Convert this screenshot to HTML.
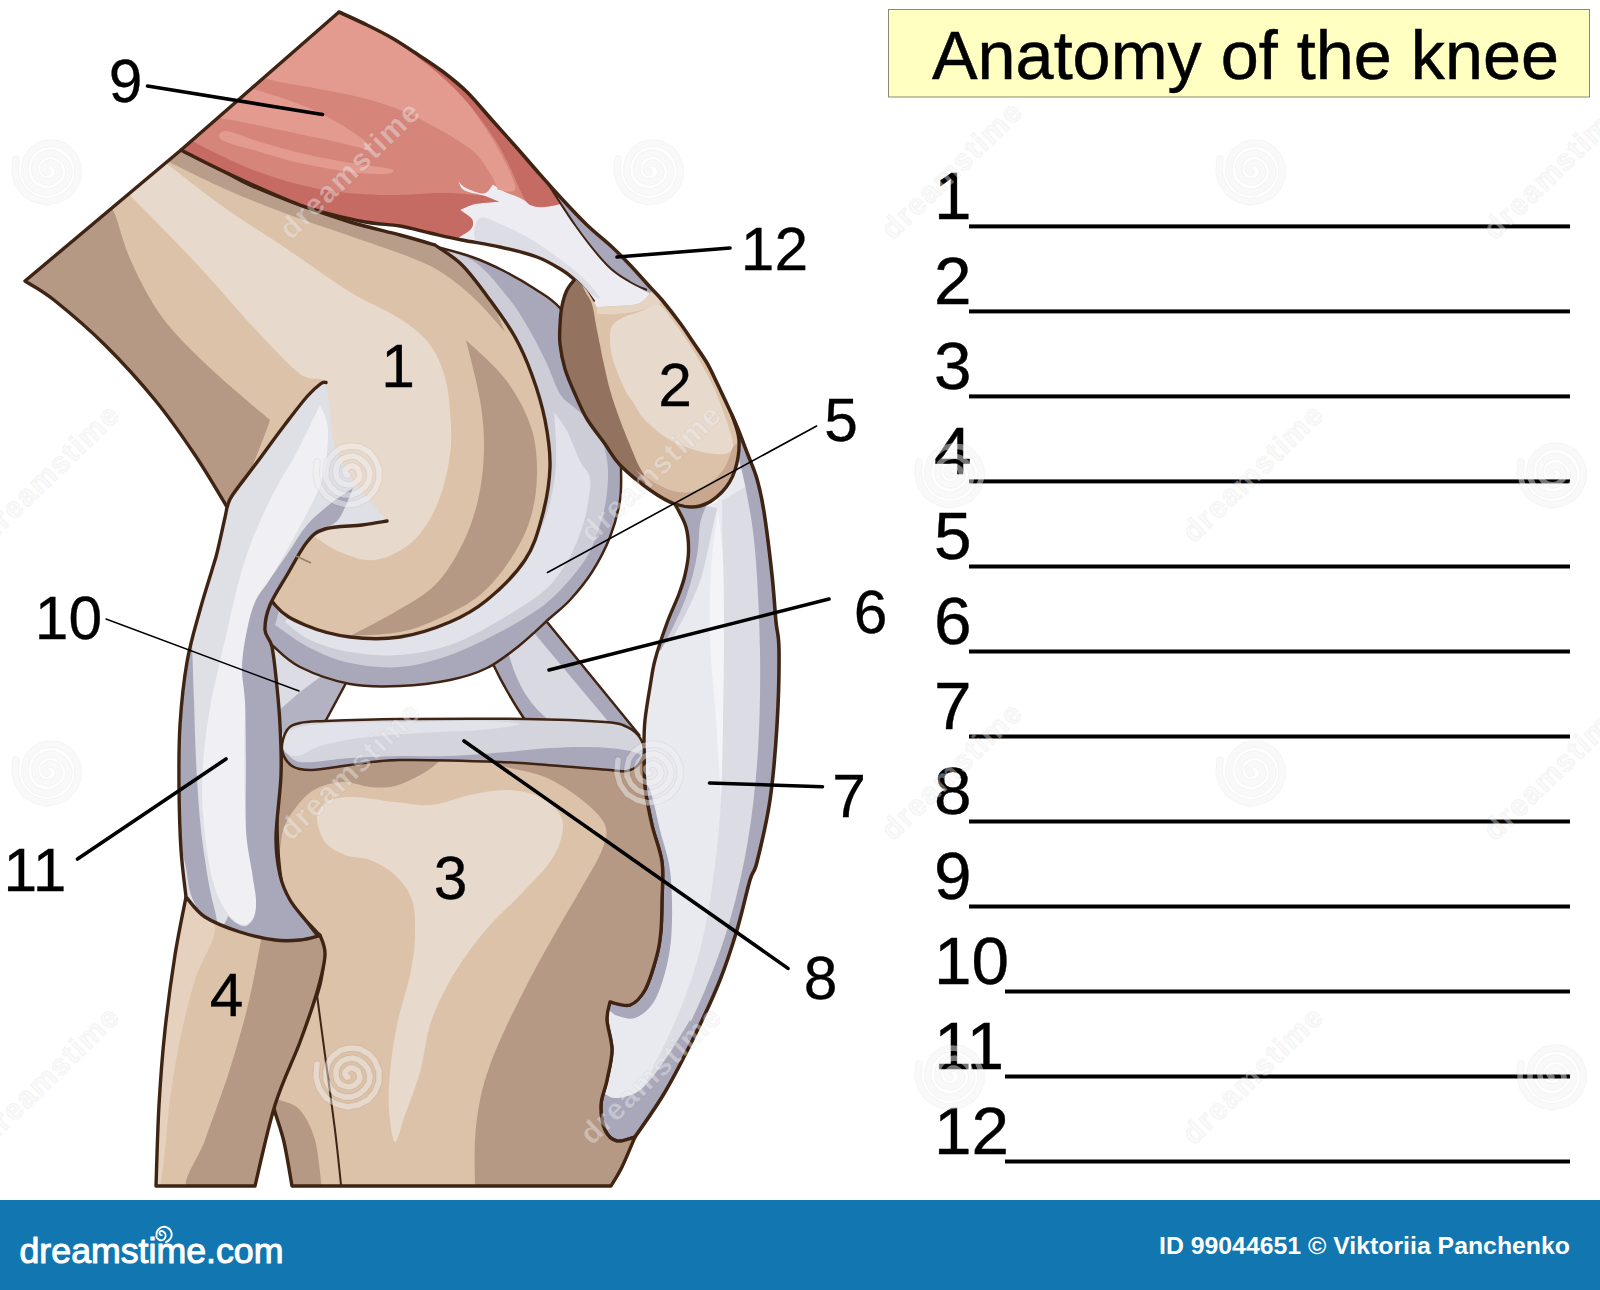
<!DOCTYPE html>
<html><head><meta charset="utf-8"><title>Anatomy of the knee</title>
<style>
html,body{margin:0;padding:0;background:#fff}
body{width:1600px;height:1290px;overflow:hidden;font-family:"Liberation Sans",sans-serif}
svg{display:block}
text{font-family:"Liberation Sans",sans-serif}
</style></head><body>
<svg width="1600" height="1290" viewBox="0 0 1600 1290">
<defs>
<clipPath id="cpCart"><path d="M433.0,246.0C439.5,247.8 460.2,252.8 472.0,257.0C483.8,261.2 493.5,265.7 504.0,271.0C514.5,276.3 525.7,282.8 535.0,289.0C544.3,295.2 550.8,297.8 560.0,308.0C569.2,318.2 581.7,334.7 590.0,350.0C598.3,365.3 605.0,385.0 610.0,400.0C615.0,415.0 618.2,428.8 620.0,440.0C621.8,451.2 621.0,457.0 621.0,467.0C621.0,477.0 621.8,488.3 620.0,500.0C618.2,511.7 614.7,525.0 610.0,537.0C605.3,549.0 598.7,561.5 592.0,572.0C585.3,582.5 577.0,592.3 570.0,600.0C563.0,607.7 558.3,610.5 550.0,618.0C541.7,625.5 530.5,636.7 520.0,645.0C509.5,653.3 498.7,662.2 487.0,668.0C475.3,673.8 464.5,677.0 450.0,680.0C435.5,683.0 416.7,685.3 400.0,686.0C383.3,686.7 366.7,687.2 350.0,684.0C333.3,680.8 313.0,673.5 300.0,667.0C287.0,660.5 279.5,651.5 272.0,645.0C264.5,638.5 257.8,630.8 255.0,628.0C262.5,616.7 275.8,598.0 300.0,560.0C324.2,522.0 377.5,452.5 400.0,400.0C422.5,347.5 429.2,270.8 435.0,245.0Z"/></clipPath>
<clipPath id="cpFem"><path d="M181.0,150.0C188.3,153.7 213.5,166.2 225.0,172.0C236.5,177.8 237.5,179.5 250.0,185.0C262.5,190.5 283.3,198.8 300.0,205.0C316.7,211.2 333.3,217.0 350.0,222.0C366.7,227.0 385.8,231.2 400.0,235.0C414.2,238.8 429.2,243.3 435.0,245.0C439.5,248.3 452.8,255.8 462.0,265.0C471.2,274.2 481.2,288.0 490.0,300.0C498.8,312.0 508.0,324.5 515.0,337.0C522.0,349.5 527.0,361.2 532.0,375.0C537.0,388.8 542.0,404.7 545.0,420.0C548.0,435.3 550.5,450.8 550.0,467.0C549.5,483.2 546.2,501.5 542.0,517.0C537.8,532.5 534.2,546.2 525.0,560.0C515.8,573.8 499.5,589.7 487.0,600.0C474.5,610.3 464.5,615.8 450.0,622.0C435.5,628.2 416.7,634.5 400.0,637.0C383.3,639.5 365.8,639.0 350.0,637.0C334.2,635.0 317.5,630.3 305.0,625.0C292.5,619.7 284.2,615.8 275.0,605.0C265.8,594.2 258.0,576.3 250.0,560.0C242.0,543.7 230.8,515.8 227.0,507.0C221.7,498.3 207.0,472.8 195.0,455.0C183.0,437.2 170.0,418.3 155.0,400.0C140.0,381.7 121.8,361.7 105.0,345.0C88.2,328.3 67.3,310.7 54.0,300.0C40.7,289.3 29.8,284.2 25.0,281.0L181.0,150.0Z"/></clipPath>
<clipPath id="cpMT"><path d="M339.0,12.0L181.0,150.0C188.3,153.7 205.2,162.8 225.0,172.0C244.8,181.2 277.5,196.8 300.0,205.0C322.5,213.2 343.3,217.5 360.0,221.0C376.7,224.5 388.3,224.0 400.0,226.0C411.7,228.0 419.7,230.7 430.0,233.0C440.3,235.3 450.3,237.7 462.0,240.0C473.7,242.3 487.5,244.2 500.0,247.0C512.5,249.8 526.7,253.2 537.0,257.0C547.3,260.8 555.7,266.2 562.0,270.0C568.3,273.8 571.2,276.8 575.0,280.0C578.8,283.2 582.0,285.2 585.0,289.0C588.0,292.8 590.8,298.7 593.0,303.0C595.2,307.3 597.2,313.0 598.0,315.0C600.0,315.8 603.0,320.0 610.0,320.0C617.0,320.0 631.7,319.2 640.0,315.0C648.3,310.8 656.7,298.3 660.0,295.0C658.3,293.7 654.8,291.8 650.0,287.0C645.2,282.2 637.3,272.7 631.0,266.0C624.7,259.3 619.3,253.8 612.0,247.0C604.7,240.2 595.3,233.0 587.0,225.0C578.7,217.0 570.3,208.0 562.0,199.0C553.7,190.0 544.5,179.5 537.0,171.0C529.5,162.5 524.5,156.5 517.0,148.0C509.5,139.5 500.3,129.3 492.0,120.0C483.7,110.7 475.3,100.2 467.0,92.0C458.7,83.8 450.3,77.3 442.0,71.0C433.7,64.7 425.3,59.5 417.0,54.0C408.7,48.5 400.3,42.8 392.0,38.0C383.7,33.2 375.8,29.3 367.0,25.0C358.2,20.7 343.7,14.2 339.0,12.0Z"/></clipPath>
<clipPath id="cpPL"><path d="M732.0,415.0C733.0,417.3 735.3,422.3 738.0,429.0C740.7,435.7 744.8,446.7 748.0,455.0C751.2,463.3 754.3,469.5 757.0,479.0C759.7,488.5 761.5,496.0 764.0,512.0C766.5,528.0 770.0,556.7 772.0,575.0C774.0,593.3 774.8,609.5 776.0,622.0C777.2,634.5 778.8,632.8 779.0,650.0C779.2,667.2 778.5,700.0 777.0,725.0C775.5,750.0 773.3,777.2 770.0,800.0C766.7,822.8 760.3,848.7 757.0,862.0C753.7,875.3 753.3,868.7 750.0,880.0C746.7,891.3 742.0,913.3 737.0,930.0C732.0,946.7 727.0,962.5 720.0,980.0C713.0,997.5 704.2,1016.3 695.0,1035.0C685.8,1053.7 675.0,1075.0 665.0,1092.0C655.0,1109.0 640.0,1129.5 635.0,1137.0C632.0,1137.7 622.0,1142.2 617.0,1141.0C612.0,1139.8 607.7,1136.0 605.0,1130.0C602.3,1124.0 600.7,1113.3 601.0,1105.0C601.3,1096.7 605.2,1089.2 607.0,1080.0C608.8,1070.8 612.0,1060.0 612.0,1050.0C612.0,1040.0 607.3,1028.0 607.0,1020.0C606.7,1012.0 609.5,1005.0 610.0,1002.0C613.3,1002.5 624.2,1007.0 630.0,1005.0C635.8,1003.0 640.5,998.3 645.0,990.0C649.5,981.7 654.3,965.0 657.0,955.0C659.7,945.0 660.2,939.2 661.0,930.0C661.8,920.8 661.8,911.3 662.0,900.0C662.2,888.7 663.7,874.5 662.0,862.0C660.3,849.5 654.8,837.5 652.0,825.0C649.2,812.5 646.3,800.3 645.0,787.0C643.7,773.7 644.0,756.2 644.0,745.0C644.0,733.8 644.0,729.7 645.0,720.0C646.0,710.3 648.3,697.0 650.0,687.0C651.7,677.0 652.2,670.7 655.0,660.0C657.8,649.3 663.0,634.0 667.0,623.0C671.0,612.0 676.0,602.0 679.0,594.0C682.0,586.0 683.4,582.0 685.0,575.0C686.6,568.0 688.3,560.0 688.5,552.0C688.7,544.0 688.2,535.0 686.0,527.0C683.8,519.0 676.8,507.8 675.0,504.0C679.2,504.3 692.2,508.0 700.0,506.0C707.8,504.0 716.7,507.2 722.0,492.0C727.3,476.8 730.3,427.8 732.0,415.0Z"/></clipPath>
<clipPath id="cpPat"><path d="M575.0,279.0C573.7,280.8 569.2,285.5 567.0,290.0C564.8,294.5 563.2,300.2 562.0,306.0C560.8,311.8 560.3,318.7 560.0,325.0C559.7,331.3 559.2,336.7 560.0,344.0C560.8,351.3 562.5,360.7 565.0,369.0C567.5,377.3 571.3,385.7 575.0,394.0C578.7,402.3 582.0,410.7 587.0,419.0C592.0,427.3 599.5,436.3 605.0,444.0C610.5,451.7 612.5,457.3 620.0,465.0C627.5,472.7 640.8,483.5 650.0,490.0C659.2,496.5 666.7,501.3 675.0,504.0C683.3,506.7 692.2,508.0 700.0,506.0C707.8,504.0 716.2,498.0 722.0,492.0C727.8,486.0 732.2,478.7 735.0,470.0C737.8,461.3 739.5,449.2 739.0,440.0C738.5,430.8 733.2,419.2 732.0,415.0C730.8,412.5 727.6,405.5 725.0,400.0C722.4,394.5 719.5,388.2 716.5,382.0C713.5,375.8 710.9,369.7 707.0,363.0C703.1,356.3 697.5,348.7 693.0,342.0C688.5,335.3 685.2,330.0 680.0,323.0C674.8,316.0 666.7,305.7 662.0,300.0C657.3,294.3 653.7,290.8 652.0,289.0C651.2,290.3 649.5,294.5 647.0,297.0C644.5,299.5 642.2,302.5 637.0,304.0C631.8,305.5 622.7,305.5 616.0,306.0C609.3,306.5 600.2,306.8 597.0,307.0C596.5,306.2 596.0,305.2 594.0,302.0C592.0,298.8 588.2,291.8 585.0,288.0C581.8,284.2 576.7,280.5 575.0,279.0Z"/></clipPath>
<clipPath id="cpTib"><path d="M281.0,765.0C280.3,775.0 276.8,804.7 277.0,825.0C277.2,845.3 279.8,873.7 282.0,887.0C284.2,900.3 285.8,899.2 290.0,905.0C294.2,910.8 302.0,916.7 307.0,922.0C312.0,927.3 317.2,931.5 320.0,937.0C322.8,942.5 323.8,947.8 324.0,955.0C324.2,962.2 322.2,973.3 321.0,980.0C319.8,986.7 317.7,992.5 317.0,995.0C314.2,1000.8 306.2,1016.7 300.0,1030.0C293.8,1043.3 284.7,1063.7 280.0,1075.0C275.3,1086.3 272.8,1091.8 272.0,1098.0C271.2,1104.2 273.0,1104.7 275.0,1112.0C277.0,1119.3 281.2,1129.7 284.0,1142.0C286.8,1154.3 290.7,1178.7 292.0,1186.0L611.0,1186.0C612.8,1182.8 618.0,1175.2 622.0,1167.0C626.0,1158.8 632.8,1142.0 635.0,1137.0C632.0,1137.7 622.0,1142.2 617.0,1141.0C612.0,1139.8 607.7,1136.0 605.0,1130.0C602.3,1124.0 600.7,1113.3 601.0,1105.0C601.3,1096.7 605.2,1089.2 607.0,1080.0C608.8,1070.8 612.0,1060.0 612.0,1050.0C612.0,1040.0 607.3,1028.0 607.0,1020.0C606.7,1012.0 609.5,1005.0 610.0,1002.0C613.3,1002.5 624.2,1007.0 630.0,1005.0C635.8,1003.0 640.5,998.3 645.0,990.0C649.5,981.7 654.3,965.0 657.0,955.0C659.7,945.0 660.2,939.2 661.0,930.0C661.8,920.8 661.8,911.3 662.0,900.0C662.2,888.7 663.7,874.5 662.0,862.0C660.3,849.5 654.8,837.5 652.0,825.0C649.2,812.5 646.3,799.5 645.0,787.0C643.7,774.5 644.2,756.2 644.0,750.0C620.0,748.3 560.5,740.8 500.0,740.0C439.5,739.2 317.5,744.2 281.0,745.0Z"/></clipPath>
<clipPath id="cpMen"><path d="M287.0,730.0C290.0,725.5 293.7,724.5 300.0,723.0C306.3,721.5 308.3,721.7 325.0,721.0C341.7,720.3 366.7,719.3 400.0,719.0C433.3,718.7 490.8,718.5 525.0,719.0C559.2,719.5 588.3,720.8 605.0,722.0C621.7,723.2 619.5,723.8 625.0,726.0C630.5,728.2 634.8,731.0 638.0,735.0C641.2,739.0 643.8,745.2 644.0,750.0C644.2,754.8 641.8,760.5 639.0,764.0C636.2,767.5 631.8,770.0 627.0,771.0C622.2,772.0 621.2,770.8 610.0,770.0C598.8,769.2 578.3,767.3 560.0,766.0C541.7,764.7 526.7,763.0 500.0,762.0C473.3,761.0 425.0,759.5 400.0,760.0C375.0,760.5 364.7,763.3 350.0,765.0C335.3,766.7 321.7,769.8 312.0,770.0C302.3,770.2 297.0,769.3 292.0,766.0C287.0,762.7 282.8,756.0 282.0,750.0C281.2,744.0 284.0,734.5 287.0,730.0Z"/></clipPath>
<clipPath id="cpFib"><path d="M186.0,897.0C184.2,906.7 178.5,932.8 175.0,955.0C171.5,977.2 167.7,1005.0 165.0,1030.0C162.3,1055.0 160.5,1079.0 159.0,1105.0C157.5,1131.0 156.5,1172.5 156.0,1186.0L255.0,1186.0C258.3,1172.5 267.5,1129.0 275.0,1105.0C282.5,1081.0 293.0,1060.8 300.0,1042.0C307.0,1023.2 312.8,1006.5 317.0,992.0C321.2,977.5 324.5,964.5 325.0,955.0C325.5,945.5 320.8,938.3 320.0,935.0C316.7,933.3 313.3,928.3 300.0,925.0C286.7,921.7 259.0,919.7 240.0,915.0C221.0,910.3 195.0,900.0 186.0,897.0Z"/></clipPath>
<clipPath id="cpL11"><path d="M326.0,382.5C325.2,382.7 324.1,381.2 321.0,383.5C317.9,385.8 313.5,389.2 307.5,396.0C301.5,402.8 293.8,413.0 285.0,424.5C276.2,436.0 263.8,453.2 255.0,465.0C246.2,476.8 237.1,488.2 232.5,495.0C227.9,501.8 228.8,502.2 227.5,506.0C226.2,509.8 226.8,509.7 225.0,517.5C223.2,525.3 219.2,544.2 217.0,553.0C214.8,561.8 214.8,560.5 212.0,570.0C209.2,579.5 204.2,594.7 200.0,610.0C195.8,625.3 190.3,642.8 187.0,662.0C183.7,681.2 181.3,704.2 180.0,725.0C178.7,745.8 178.8,766.2 179.0,787.0C179.2,807.8 179.8,831.7 181.0,850.0C182.2,868.3 185.2,889.2 186.0,897.0C189.2,900.3 196.0,911.2 205.0,917.0C214.0,922.8 228.3,928.2 240.0,932.0C251.7,935.8 265.0,938.7 275.0,940.0C285.0,941.3 292.8,940.7 300.0,940.0C307.2,939.3 315.0,936.7 318.0,936.0C316.2,933.7 311.7,928.0 307.0,922.0C302.3,916.0 294.5,907.8 290.0,900.0C285.5,892.2 282.3,885.5 280.0,875.0C277.7,864.5 275.8,853.7 276.0,837.0C276.2,820.3 280.3,793.7 281.0,775.0C281.7,756.3 280.7,739.7 280.0,725.0C279.3,710.3 278.3,700.0 277.0,687.0C275.7,674.0 274.0,656.5 272.0,647.0C270.0,637.5 265.3,637.0 265.0,630.0C264.7,623.0 266.3,614.2 270.0,605.0C273.7,595.8 280.8,585.5 287.0,575.0C293.2,564.5 300.7,549.7 307.0,542.0C313.3,534.3 315.8,531.8 325.0,529.0C334.2,526.2 351.7,526.3 362.0,525.0C372.3,523.7 382.8,521.7 387.0,521.0C385.5,519.2 381.8,514.3 378.0,510.0C374.2,505.7 369.5,501.0 364.5,495.0C359.5,489.0 352.8,481.5 348.0,474.0C343.2,466.5 338.8,457.2 336.0,450.0C333.2,442.8 332.5,437.2 331.5,430.5C330.5,423.8 330.9,417.2 330.0,409.5C329.1,401.8 326.7,388.2 326.0,384.0Z"/></clipPath>
</defs>
<path d="M547.0,622.0L640.0,736.0L525.0,722.0C522.2,716.7 513.5,700.0 508.0,690.0C502.5,680.0 494.7,666.7 492.0,662.0L520.0,640.0Z" fill="#d9d9e2"/>
<path d="M547,622 L640,736 L622,738 L530,628Z" fill="#a9a8bb"/>
<path d="M492,662 C505,690 515,710 528,722 L552,722 C532,708 518,688 508,652Z" fill="#a9a8bb"/>
<path d="M547,622 L640,736 M492,662 C505,690 515,705 525,720" fill="none" stroke="#3f2413" stroke-width="2.5"/>
<path d="M270,640 L300,667 L346,683 L325,722 L285,735 L275,730Z" fill="#dcdce4"/>
<path d="M276,713 L300,692 L331,669 L347,682 L324,723 L283,734Z" fill="#b3b2c2"/>
<path d="M346,683 L325,722" fill="none" stroke="#3f2413" stroke-width="2.5"/>
<path d="M433.0,246.0C439.5,247.8 460.2,252.8 472.0,257.0C483.8,261.2 493.5,265.7 504.0,271.0C514.5,276.3 525.7,282.8 535.0,289.0C544.3,295.2 550.8,297.8 560.0,308.0C569.2,318.2 581.7,334.7 590.0,350.0C598.3,365.3 605.0,385.0 610.0,400.0C615.0,415.0 618.2,428.8 620.0,440.0C621.8,451.2 621.0,457.0 621.0,467.0C621.0,477.0 621.8,488.3 620.0,500.0C618.2,511.7 614.7,525.0 610.0,537.0C605.3,549.0 598.7,561.5 592.0,572.0C585.3,582.5 577.0,592.3 570.0,600.0C563.0,607.7 558.3,610.5 550.0,618.0C541.7,625.5 530.5,636.7 520.0,645.0C509.5,653.3 498.7,662.2 487.0,668.0C475.3,673.8 464.5,677.0 450.0,680.0C435.5,683.0 416.7,685.3 400.0,686.0C383.3,686.7 366.7,687.2 350.0,684.0C333.3,680.8 313.0,673.5 300.0,667.0C287.0,660.5 279.5,651.5 272.0,645.0C264.5,638.5 257.8,630.8 255.0,628.0C262.5,616.7 275.8,598.0 300.0,560.0C324.2,522.0 377.5,452.5 400.0,400.0C422.5,347.5 429.2,270.8 435.0,245.0Z" fill="#a9a8bb"/>
<g clip-path="url(#cpCart)">
<path d="M436.0,247.0C442.5,249.5 462.7,253.2 475.0,262.0C487.3,270.8 500.8,288.5 510.0,300.0C519.2,311.5 524.0,320.7 530.0,331.0C536.0,341.3 541.0,351.5 546.0,362.0C551.0,372.5 555.2,386.3 560.0,394.0C564.8,401.7 569.7,403.0 575.0,408.0C580.3,413.0 587.5,418.7 592.0,424.0C596.5,429.3 599.5,434.0 602.0,440.0C604.5,446.0 606.0,453.8 607.0,460.0C608.0,466.2 608.2,470.3 608.0,477.0C607.8,483.7 607.3,492.0 606.0,500.0C604.7,508.0 603.0,515.8 600.0,525.0C597.0,534.2 593.8,545.0 588.0,555.0C582.2,565.0 573.0,576.2 565.0,585.0C557.0,593.8 550.8,600.2 540.0,608.0C529.2,615.8 515.0,624.2 500.0,632.0C485.0,639.8 466.7,649.2 450.0,655.0C433.3,660.8 416.7,665.7 400.0,667.0C383.3,668.3 365.0,666.2 350.0,663.0C335.0,659.8 322.5,654.3 310.0,648.0C297.5,641.7 280.8,628.8 275.0,625.0C279.2,614.2 279.2,597.5 300.0,560.0C320.8,522.5 377.3,452.2 400.0,400.0C422.7,347.8 430.0,272.5 436.0,247.0Z" fill="#cdcdd8"/>
<path d="M554.0,412.0C556.2,415.2 562.7,422.8 567.0,431.0C571.3,439.2 576.2,453.2 580.0,461.0C583.8,468.8 588.7,471.0 590.0,478.0C591.3,485.0 589.3,494.7 588.0,503.0C586.7,511.3 585.3,518.5 582.0,528.0C578.7,537.5 574.2,549.7 568.0,560.0C561.8,570.3 556.3,580.0 545.0,590.0C533.7,600.0 515.8,610.8 500.0,620.0C484.2,629.2 466.7,639.2 450.0,645.0C433.3,650.8 416.7,653.8 400.0,655.0C383.3,656.2 365.0,654.5 350.0,652.0C335.0,649.5 320.8,645.0 310.0,640.0C299.2,635.0 289.2,625.0 285.0,622.0C287.5,620.0 289.2,609.0 300.0,610.0C310.8,611.0 333.3,624.3 350.0,628.0C366.7,631.7 385.0,633.0 400.0,632.0C415.0,631.0 426.7,627.3 440.0,622.0C453.3,616.7 468.3,607.8 480.0,600.0C491.7,592.2 500.8,585.0 510.0,575.0C519.2,565.0 528.7,550.8 535.0,540.0C541.3,529.2 544.7,520.8 548.0,510.0C551.3,499.2 553.7,485.8 555.0,475.0C556.3,464.2 556.2,455.5 556.0,445.0C555.8,434.5 554.3,417.5 554.0,412.0Z" fill="#e2e2eb"/>
</g>
<path d="M433.0,246.0C439.5,247.8 460.2,252.8 472.0,257.0C483.8,261.2 493.5,265.7 504.0,271.0C514.5,276.3 525.7,282.8 535.0,289.0C544.3,295.2 550.8,297.8 560.0,308.0C569.2,318.2 581.7,334.7 590.0,350.0C598.3,365.3 605.0,385.0 610.0,400.0C615.0,415.0 618.2,428.8 620.0,440.0C621.8,451.2 621.0,457.0 621.0,467.0C621.0,477.0 621.8,488.3 620.0,500.0C618.2,511.7 614.7,525.0 610.0,537.0C605.3,549.0 598.7,561.5 592.0,572.0C585.3,582.5 577.0,592.3 570.0,600.0C563.0,607.7 558.3,610.5 550.0,618.0C541.7,625.5 530.5,636.7 520.0,645.0C509.5,653.3 498.7,662.2 487.0,668.0C475.3,673.8 464.5,677.0 450.0,680.0C435.5,683.0 416.7,685.3 400.0,686.0C383.3,686.7 366.7,687.2 350.0,684.0C333.3,680.8 313.0,673.5 300.0,667.0C287.0,660.5 279.5,651.5 272.0,645.0C264.5,638.5 257.8,630.8 255.0,628.0" fill="none" stroke="#3f2413" stroke-width="2.5" stroke-linejoin="round"/>
<path d="M181.0,150.0C188.3,153.7 213.5,166.2 225.0,172.0C236.5,177.8 237.5,179.5 250.0,185.0C262.5,190.5 283.3,198.8 300.0,205.0C316.7,211.2 333.3,217.0 350.0,222.0C366.7,227.0 385.8,231.2 400.0,235.0C414.2,238.8 429.2,243.3 435.0,245.0C439.5,248.3 452.8,255.8 462.0,265.0C471.2,274.2 481.2,288.0 490.0,300.0C498.8,312.0 508.0,324.5 515.0,337.0C522.0,349.5 527.0,361.2 532.0,375.0C537.0,388.8 542.0,404.7 545.0,420.0C548.0,435.3 550.5,450.8 550.0,467.0C549.5,483.2 546.2,501.5 542.0,517.0C537.8,532.5 534.2,546.2 525.0,560.0C515.8,573.8 499.5,589.7 487.0,600.0C474.5,610.3 464.5,615.8 450.0,622.0C435.5,628.2 416.7,634.5 400.0,637.0C383.3,639.5 365.8,639.0 350.0,637.0C334.2,635.0 317.5,630.3 305.0,625.0C292.5,619.7 284.2,615.8 275.0,605.0C265.8,594.2 258.0,576.3 250.0,560.0C242.0,543.7 230.8,515.8 227.0,507.0C221.7,498.3 207.0,472.8 195.0,455.0C183.0,437.2 170.0,418.3 155.0,400.0C140.0,381.7 121.8,361.7 105.0,345.0C88.2,328.3 67.3,310.7 54.0,300.0C40.7,289.3 29.8,284.2 25.0,281.0L181.0,150.0Z" fill="#dcc2a9"/>
<g clip-path="url(#cpFem)">
<path d="M162.0,160.0C172.5,168.0 204.2,193.2 225.0,208.0C245.8,222.8 266.2,235.0 287.0,249.0C307.8,263.0 331.7,280.7 350.0,292.0C368.3,303.3 384.0,308.7 397.0,317.0C410.0,325.3 420.2,332.5 428.0,342.0C435.8,351.5 440.3,362.5 444.0,374.0C447.7,385.5 449.0,397.5 450.0,411.0C451.0,424.5 452.2,439.3 450.0,455.0C447.8,470.7 443.3,490.5 437.0,505.0C430.7,519.5 422.3,532.8 412.0,542.0C401.7,551.2 387.0,558.3 375.0,560.0C363.0,561.7 350.5,556.2 340.0,552.0C329.5,547.8 316.7,537.8 312.0,535.0C308.3,529.2 292.0,519.2 290.0,500.0C288.0,480.8 298.3,433.3 300.0,420.0C304.2,413.8 325.0,390.7 325.0,383.0C325.0,375.3 311.5,382.8 300.0,374.0C288.5,365.2 273.7,348.8 256.0,330.0C238.3,311.2 216.7,285.2 194.0,261.0C171.3,236.8 132.3,197.7 120.0,185.0Z" fill="#e8d9cd"/>
<path d="M105.0,205.0C106.5,206.2 109.7,202.7 114.0,212.0C118.3,221.3 123.0,243.5 131.0,261.0C139.0,278.5 149.0,299.3 162.0,317.0C175.0,334.7 191.0,349.8 209.0,367.0C227.0,384.2 259.8,411.2 270.0,420.0C268.7,423.7 269.2,423.7 262.0,442.0C254.8,460.3 232.8,515.3 227.0,530.0C214.2,515.0 186.2,481.5 150.0,440.0C113.8,398.5 17.5,320.2 10.0,281.0C2.5,241.8 89.2,217.7 105.0,205.0Z" fill="#b69985"/>
<path d="M185.0,140.0C191.7,145.3 214.2,164.5 225.0,172.0C235.8,179.5 237.5,179.5 250.0,185.0C262.5,190.5 283.3,198.8 300.0,205.0C316.7,211.2 333.3,217.0 350.0,222.0C366.7,227.0 385.8,231.2 400.0,235.0C414.2,238.8 424.7,240.0 435.0,245.0C445.3,250.0 452.8,255.8 462.0,265.0C471.2,274.2 482.8,288.8 490.0,300.0C497.2,311.2 502.5,326.7 505.0,332.0C500.0,326.5 485.2,308.7 475.0,299.0C464.8,289.3 454.5,280.8 444.0,274.0C433.5,267.2 427.7,264.3 412.0,258.0C396.3,251.7 370.8,243.3 350.0,236.0C329.2,228.7 307.8,221.8 287.0,214.0C266.2,206.2 245.3,198.0 225.0,189.0C204.7,180.0 175.0,164.8 165.0,160.0Z" fill="#b89d8a"/>
<path d="M466.0,340.0C472.7,346.7 495.2,365.5 506.0,380.0C516.8,394.5 525.8,411.3 531.0,427.0C536.2,442.7 537.2,458.5 537.0,474.0C536.8,489.5 534.5,505.7 530.0,520.0C525.5,534.3 518.3,547.5 510.0,560.0C501.7,572.5 491.7,585.3 480.0,595.0C468.3,604.7 453.3,611.8 440.0,618.0C426.7,624.2 415.0,629.0 400.0,632.0C385.0,635.0 358.3,635.3 350.0,636.0C357.5,632.0 380.8,620.5 395.0,612.0C409.2,603.5 423.8,596.2 435.0,585.0C446.2,573.8 454.8,559.2 462.0,545.0C469.2,530.8 474.3,515.8 478.0,500.0C481.7,484.2 483.7,466.7 484.0,450.0C484.3,433.3 483.0,418.3 480.0,400.0C477.0,381.7 468.3,350.0 466.0,340.0Z" fill="#b69985"/>
</g>
<path d="M181.0,150.0C188.3,153.7 213.5,166.2 225.0,172.0C236.5,177.8 237.5,179.5 250.0,185.0C262.5,190.5 283.3,198.8 300.0,205.0C316.7,211.2 333.3,217.0 350.0,222.0C366.7,227.0 385.8,231.2 400.0,235.0C414.2,238.8 429.2,243.3 435.0,245.0C439.5,248.3 452.8,255.8 462.0,265.0C471.2,274.2 481.2,288.0 490.0,300.0C498.8,312.0 508.0,324.5 515.0,337.0C522.0,349.5 527.0,361.2 532.0,375.0C537.0,388.8 542.0,404.7 545.0,420.0C548.0,435.3 550.5,450.8 550.0,467.0C549.5,483.2 546.2,501.5 542.0,517.0C537.8,532.5 534.2,546.2 525.0,560.0C515.8,573.8 499.5,589.7 487.0,600.0C474.5,610.3 464.5,615.8 450.0,622.0C435.5,628.2 416.7,634.5 400.0,637.0C383.3,639.5 365.8,639.0 350.0,637.0C334.2,635.0 317.5,630.3 305.0,625.0C292.5,619.7 284.2,615.8 275.0,605.0C265.8,594.2 258.0,576.3 250.0,560.0C242.0,543.7 230.8,515.8 227.0,507.0C221.7,498.3 207.0,472.8 195.0,455.0C183.0,437.2 170.0,418.3 155.0,400.0C140.0,381.7 121.8,361.7 105.0,345.0C88.2,328.3 67.3,310.7 54.0,300.0C40.7,289.3 29.8,284.2 25.0,281.0L181.0,150.0Z" fill="none" stroke="#3f2413" stroke-width="3.4" stroke-linejoin="round"/>
<path d="M339.0,12.0L181.0,150.0C188.3,153.7 205.2,162.8 225.0,172.0C244.8,181.2 277.5,196.8 300.0,205.0C322.5,213.2 343.3,217.5 360.0,221.0C376.7,224.5 388.3,224.0 400.0,226.0C411.7,228.0 419.7,230.7 430.0,233.0C440.3,235.3 450.3,237.7 462.0,240.0C473.7,242.3 487.5,244.2 500.0,247.0C512.5,249.8 526.7,253.2 537.0,257.0C547.3,260.8 555.7,266.2 562.0,270.0C568.3,273.8 571.2,276.8 575.0,280.0C578.8,283.2 582.0,285.2 585.0,289.0C588.0,292.8 590.8,298.7 593.0,303.0C595.2,307.3 597.2,313.0 598.0,315.0C600.0,315.8 603.0,320.0 610.0,320.0C617.0,320.0 631.7,319.2 640.0,315.0C648.3,310.8 656.7,298.3 660.0,295.0C658.3,293.7 654.8,291.8 650.0,287.0C645.2,282.2 637.3,272.7 631.0,266.0C624.7,259.3 619.3,253.8 612.0,247.0C604.7,240.2 595.3,233.0 587.0,225.0C578.7,217.0 570.3,208.0 562.0,199.0C553.7,190.0 544.5,179.5 537.0,171.0C529.5,162.5 524.5,156.5 517.0,148.0C509.5,139.5 500.3,129.3 492.0,120.0C483.7,110.7 475.3,100.2 467.0,92.0C458.7,83.8 450.3,77.3 442.0,71.0C433.7,64.7 425.3,59.5 417.0,54.0C408.7,48.5 400.3,42.8 392.0,38.0C383.7,33.2 375.8,29.3 367.0,25.0C358.2,20.7 343.7,14.2 339.0,12.0Z" fill="#ececf2"/>
<g clip-path="url(#cpMT)">
<path d="M339.0,0.0L170.0,150.0C179.2,155.0 203.3,169.7 225.0,180.0C246.7,190.3 277.5,204.0 300.0,212.0C322.5,220.0 343.3,224.7 360.0,228.0C376.7,231.3 385.8,230.0 400.0,232.0C414.2,234.0 434.8,239.3 445.0,240.0C455.2,240.7 458.3,236.7 461.0,236.0C462.5,235.0 468.0,232.0 470.0,230.0C472.0,228.0 472.8,226.0 473.0,224.0C473.2,222.0 473.2,220.3 471.0,218.0C468.8,215.7 461.8,211.3 460.0,210.0C462.5,209.0 468.5,205.4 475.0,204.0C481.5,202.6 495.0,202.1 499.0,201.7C496.5,200.7 489.8,197.6 484.0,195.7C478.2,193.8 468.8,192.9 464.5,190.5C460.2,188.1 459.5,183.0 458.5,181.5C459.8,182.6 461.8,186.0 466.0,188.0C470.2,190.0 479.5,194.1 484.0,193.5C488.5,192.9 491.5,186.0 493.0,184.5C495.0,185.8 500.5,189.8 505.0,192.0C509.5,194.2 515.8,196.0 520.0,198.0C524.2,200.0 527.2,202.4 530.5,204.0C533.8,205.6 536.0,207.1 539.5,207.3C543.0,207.6 548.8,206.7 551.5,205.5C554.2,204.3 554.6,203.4 556.0,200.0C557.4,196.6 562.7,193.3 560.0,185.0C557.3,176.7 550.0,164.2 540.0,150.0C530.0,135.8 520.0,120.0 500.0,100.0C480.0,80.0 446.8,46.7 420.0,30.0C393.2,13.3 352.5,5.0 339.0,0.0Z" fill="#d6857a"/>
<path d="M339.0,0.0L255.0,76.0C256.3,76.3 258.0,76.8 263.0,78.0C268.0,79.2 273.8,80.8 285.0,83.0C296.2,85.2 316.3,88.3 330.0,91.0C343.7,93.7 354.5,95.5 367.0,99.0C379.5,102.5 392.5,106.7 405.0,112.0C417.5,117.3 430.5,124.3 442.0,131.0C453.5,137.7 465.8,144.7 474.0,152.0C482.2,159.3 487.0,168.7 491.0,175.0C495.0,181.3 496.8,187.5 498.0,190.0C500.8,189.2 518.0,196.7 515.0,185.0C512.0,173.3 495.8,142.5 480.0,120.0C464.2,97.5 443.5,70.0 420.0,50.0C396.5,30.0 352.5,8.3 339.0,0.0Z" fill="#e39b90"/>
<path d="M240.0,86.0C241.7,86.3 242.5,85.8 250.0,88.0C257.5,90.2 273.0,94.7 285.0,99.0C297.0,103.3 309.5,107.7 322.0,114.0C334.5,120.3 351.5,130.8 360.0,137.0C368.5,143.2 370.8,148.7 373.0,151.0C366.2,149.3 346.7,144.3 332.0,141.0C317.3,137.7 302.8,134.7 285.0,131.0C267.2,127.3 238.3,120.8 225.0,119.0C211.7,117.2 208.3,119.8 205.0,120.0Z" fill="#e39b90"/>
<path d="M226.0,131.0C232.3,131.3 247.7,138.3 260.0,142.0C272.3,145.7 285.0,149.5 300.0,153.0C315.0,156.5 334.8,160.3 350.0,163.0C365.2,165.7 385.2,167.2 391.0,169.0C396.8,170.8 391.8,173.5 385.0,174.0C378.2,174.5 364.2,173.8 350.0,172.0C335.8,170.2 315.0,166.3 300.0,163.0C285.0,159.7 273.0,155.8 260.0,152.0C247.0,148.2 227.7,143.5 222.0,140.0C216.3,136.5 219.7,130.7 226.0,131.0Z" fill="#e39b90"/>
<path d="M170.0,150.0L190.0,136.0C190.7,137.0 183.0,136.2 194.0,142.0C205.0,147.8 235.2,163.2 256.0,171.0C276.8,178.8 298.2,185.0 319.0,189.0C339.8,193.0 360.2,194.3 381.0,195.0C401.8,195.7 426.8,192.9 444.0,193.0C461.2,193.1 477.3,195.2 484.0,195.7L499.0,201.7C495.0,202.1 481.5,202.6 475.0,204.0C468.5,205.4 462.5,209.0 460.0,210.0C461.8,211.3 468.8,215.7 471.0,218.0C473.2,220.3 473.2,222.0 473.0,224.0C472.8,226.0 472.0,228.0 470.0,230.0C468.0,232.0 464.0,233.7 461.0,236.0C458.0,238.3 453.5,242.7 452.0,244.0C443.3,242.5 417.0,237.7 400.0,235.0C383.0,232.3 366.7,231.8 350.0,228.0C333.3,224.2 320.8,220.0 300.0,212.0C279.2,204.0 246.7,190.3 225.0,180.0C203.3,169.7 179.2,155.0 170.0,150.0Z" fill="#c56b63"/>
<path d="M395.0,25.0C404.2,31.2 432.5,47.8 450.0,62.0C467.5,76.2 483.7,92.0 500.0,110.0C516.3,128.0 536.0,155.0 548.0,170.0C560.0,185.0 568.0,195.0 572.0,200.0C568.7,201.0 559.0,205.2 552.0,206.0C545.0,206.8 535.3,207.7 530.0,205.0C524.7,202.3 521.7,192.5 520.0,190.0C517.8,185.2 511.7,170.2 507.0,161.0C502.3,151.8 498.7,144.8 492.0,135.0C485.3,125.2 475.3,111.7 467.0,102.0C458.7,92.3 451.3,85.3 442.0,77.0C432.7,68.7 420.5,59.3 411.0,52.0C401.5,44.7 389.3,36.2 385.0,33.0Z" fill="#c56b63"/>
<path d="M480.0,218.0C484.8,215.5 495.0,221.5 505.0,226.0C515.0,230.5 527.5,236.8 540.0,245.0C552.5,253.2 570.0,266.2 580.0,275.0C590.0,283.8 599.2,295.5 600.0,298.0C600.8,300.5 593.3,296.0 585.0,290.0C576.7,284.0 563.3,269.3 550.0,262.0C536.7,254.7 517.3,249.5 505.0,246.0C492.7,242.5 480.2,245.7 476.0,241.0C471.8,236.3 475.2,220.5 480.0,218.0Z" fill="#dddde5"/>
<path d="M538.0,160.0C545.0,167.5 565.5,190.0 580.0,205.0C594.5,220.0 612.0,237.5 625.0,250.0C638.0,262.5 650.8,271.7 658.0,280.0C665.2,288.3 666.3,296.7 668.0,300.0C664.5,298.7 653.3,295.0 647.0,292.0C640.7,289.0 636.7,286.5 630.0,282.0C623.3,277.5 616.2,274.5 607.0,265.0C597.8,255.5 586.5,241.2 575.0,225.0C563.5,208.8 544.2,177.5 538.0,168.0Z" fill="#a9a8bb"/>
<path d="M538.0,168.0C544.2,177.5 563.5,208.8 575.0,225.0C586.5,241.2 597.8,255.5 607.0,265.0C616.2,274.5 623.3,277.8 630.0,282.0C636.7,286.2 644.2,288.7 647.0,290.0" fill="none" stroke="#3f2413" stroke-width="2"/>
</g>
<path d="M594.0,302.0C592.5,300.0 588.2,293.7 585.0,290.0C581.8,286.3 578.8,283.3 575.0,280.0C571.2,276.7 568.3,273.8 562.0,270.0C555.7,266.2 547.3,260.8 537.0,257.0C526.7,253.2 512.5,249.8 500.0,247.0C487.5,244.2 473.7,242.3 462.0,240.0C450.3,237.7 440.3,235.3 430.0,233.0C419.7,230.7 411.7,228.0 400.0,226.0C388.3,224.0 376.7,224.5 360.0,221.0C343.3,217.5 322.5,213.2 300.0,205.0C277.5,196.8 244.8,181.2 225.0,172.0C205.2,162.8 188.3,153.7 181.0,150.0L339.0,12.0" fill="none" stroke="#3f2413" stroke-width="3.4" stroke-linejoin="round"/>
<path d="M732.0,415.0C733.0,417.3 735.3,422.3 738.0,429.0C740.7,435.7 744.8,446.7 748.0,455.0C751.2,463.3 754.3,469.5 757.0,479.0C759.7,488.5 761.5,496.0 764.0,512.0C766.5,528.0 770.0,556.7 772.0,575.0C774.0,593.3 774.8,609.5 776.0,622.0C777.2,634.5 778.8,632.8 779.0,650.0C779.2,667.2 778.5,700.0 777.0,725.0C775.5,750.0 773.3,777.2 770.0,800.0C766.7,822.8 760.3,848.7 757.0,862.0C753.7,875.3 753.3,868.7 750.0,880.0C746.7,891.3 742.0,913.3 737.0,930.0C732.0,946.7 727.0,962.5 720.0,980.0C713.0,997.5 704.2,1016.3 695.0,1035.0C685.8,1053.7 675.0,1075.0 665.0,1092.0C655.0,1109.0 640.0,1129.5 635.0,1137.0C632.0,1137.7 622.0,1142.2 617.0,1141.0C612.0,1139.8 607.7,1136.0 605.0,1130.0C602.3,1124.0 600.7,1113.3 601.0,1105.0C601.3,1096.7 605.2,1089.2 607.0,1080.0C608.8,1070.8 612.0,1060.0 612.0,1050.0C612.0,1040.0 607.3,1028.0 607.0,1020.0C606.7,1012.0 609.5,1005.0 610.0,1002.0C613.3,1002.5 624.2,1007.0 630.0,1005.0C635.8,1003.0 640.5,998.3 645.0,990.0C649.5,981.7 654.3,965.0 657.0,955.0C659.7,945.0 660.2,939.2 661.0,930.0C661.8,920.8 661.8,911.3 662.0,900.0C662.2,888.7 663.7,874.5 662.0,862.0C660.3,849.5 654.8,837.5 652.0,825.0C649.2,812.5 646.3,800.3 645.0,787.0C643.7,773.7 644.0,756.2 644.0,745.0C644.0,733.8 644.0,729.7 645.0,720.0C646.0,710.3 648.3,697.0 650.0,687.0C651.7,677.0 652.2,670.7 655.0,660.0C657.8,649.3 663.0,634.0 667.0,623.0C671.0,612.0 676.0,602.0 679.0,594.0C682.0,586.0 683.4,582.0 685.0,575.0C686.6,568.0 688.3,560.0 688.5,552.0C688.7,544.0 688.2,535.0 686.0,527.0C683.8,519.0 676.8,507.8 675.0,504.0C679.2,504.3 692.2,508.0 700.0,506.0C707.8,504.0 716.7,507.2 722.0,492.0C727.3,476.8 730.3,427.8 732.0,415.0Z" fill="#e9e9f0"/>
<g clip-path="url(#cpPL)">
<path d="M722.0,500.0C722.2,516.7 722.8,566.7 723.0,600.0C723.2,633.3 723.3,666.7 723.0,700.0C722.7,733.3 722.7,770.0 721.0,800.0C719.3,830.0 716.5,855.0 713.0,880.0C709.5,905.0 705.5,928.3 700.0,950.0C694.5,971.7 688.0,990.0 680.0,1010.0C672.0,1030.0 661.2,1050.8 652.0,1070.0C642.8,1089.2 629.5,1115.8 625.0,1125.0C634.2,1124.2 657.5,1157.5 680.0,1120.0C702.5,1082.5 741.7,970.0 760.0,900.0C778.3,830.0 788.3,766.7 790.0,700.0C791.7,633.3 781.3,533.3 770.0,500.0C758.7,466.7 730.0,500.0 722.0,500.0Z" fill="#dcdce4"/>
<path d="M718.0,510.0C718.8,518.3 722.0,538.3 723.0,560.0C724.0,581.7 724.0,613.3 724.0,640.0C724.0,666.7 723.5,693.3 723.0,720.0C722.5,746.7 721.3,786.7 721.0,800.0C720.2,786.7 717.8,746.7 716.0,720.0C714.2,693.3 710.8,665.0 710.0,640.0C709.2,615.0 709.7,591.7 711.0,570.0C712.3,548.3 716.8,520.0 718.0,510.0Z" fill="#f3f3f8"/>
<path d="M725.0,415.0C726.7,420.0 731.5,432.5 735.0,445.0C738.5,457.5 742.7,472.5 746.0,490.0C749.3,507.5 752.7,523.3 755.0,550.0C757.3,576.7 759.5,616.7 760.0,650.0C760.5,683.3 760.0,718.3 758.0,750.0C756.0,781.7 752.7,811.7 748.0,840.0C743.3,868.3 737.2,895.0 730.0,920.0C722.8,945.0 714.7,966.7 705.0,990.0C695.3,1013.3 682.8,1038.3 672.0,1060.0C661.2,1081.7 645.3,1110.0 640.0,1120.0C633.3,1126.7 590.0,1163.3 600.0,1160.0C610.0,1156.7 666.7,1160.0 700.0,1100.0C733.3,1040.0 783.3,900.0 800.0,800.0C816.7,700.0 812.5,564.2 800.0,500.0C787.5,435.8 737.5,429.2 725.0,415.0Z" fill="#a9a8bb"/>
<path d="M670.0,500.0L717.0,508.0C715.8,513.3 712.5,528.8 710.0,540.0C707.5,551.2 705.3,564.2 702.0,575.0C698.7,585.8 695.0,594.2 690.0,605.0C685.0,615.8 675.0,634.2 672.0,640.0C670.0,640.0 658.7,650.0 660.0,640.0C661.3,630.0 675.0,596.7 680.0,580.0C685.0,563.3 691.7,553.3 690.0,540.0C688.3,526.7 673.3,506.7 670.0,500.0Z" fill="#d3d3dd"/>
<path d="M670.0,500.0L706.0,506.0C705.0,509.0 701.3,516.8 700.0,524.0C698.7,531.2 699.2,540.7 698.0,549.0C696.8,557.3 695.2,565.5 693.0,574.0C690.8,582.5 688.2,591.5 685.0,600.0C681.8,608.5 678.0,616.7 674.0,625.0C670.0,633.3 663.2,645.8 661.0,650.0C659.2,650.0 648.5,658.3 650.0,650.0C651.5,641.7 665.0,616.7 670.0,600.0C675.0,583.3 680.0,566.7 680.0,550.0C680.0,533.3 671.7,508.3 670.0,500.0Z" fill="#a9a8bb"/>
<path d="M640.0,780.0C641.7,781.7 646.7,781.7 650.0,790.0C653.3,798.3 656.7,816.7 660.0,830.0C663.3,843.3 668.0,855.0 670.0,870.0C672.0,885.0 672.3,905.0 672.0,920.0C671.7,935.0 670.8,946.7 668.0,960.0C665.2,973.3 660.5,990.3 655.0,1000.0C649.5,1009.7 641.7,1015.5 635.0,1018.0C628.3,1020.5 618.3,1015.5 615.0,1015.0C612.5,1012.5 595.8,1002.5 600.0,1000.0C604.2,997.5 630.8,1008.3 640.0,1000.0C649.2,991.7 651.7,970.0 655.0,950.0C658.3,930.0 662.5,908.3 660.0,880.0C657.5,851.7 643.3,796.7 640.0,780.0Z" fill="#a9a8bb"/>
<path d="M600.0,1090.0C602.5,1091.3 608.3,1098.0 615.0,1098.0C621.7,1098.0 631.7,1096.3 640.0,1090.0C648.3,1083.7 656.7,1071.7 665.0,1060.0C673.3,1048.3 685.8,1026.7 690.0,1020.0C691.7,1025.0 708.3,1028.3 700.0,1050.0C691.7,1071.7 656.7,1133.3 640.0,1150.0C623.3,1166.7 606.7,1160.0 600.0,1150.0C593.3,1140.0 600.0,1100.0 600.0,1090.0Z" fill="#a9a8bb"/>
</g>
<path d="M675.0,504.0C676.8,507.8 683.8,519.0 686.0,527.0C688.2,535.0 688.7,544.0 688.5,552.0C688.3,560.0 686.6,568.0 685.0,575.0C683.4,582.0 682.0,586.0 679.0,594.0C676.0,602.0 671.0,612.0 667.0,623.0C663.0,634.0 657.8,649.3 655.0,660.0C652.2,670.7 651.7,677.0 650.0,687.0C648.3,697.0 646.0,710.3 645.0,720.0C644.0,729.7 644.0,733.8 644.0,745.0C644.0,756.2 643.7,773.7 645.0,787.0C646.3,800.3 649.2,812.5 652.0,825.0C654.8,837.5 660.3,849.5 662.0,862.0C663.7,874.5 662.2,888.7 662.0,900.0C661.8,911.3 661.8,920.8 661.0,930.0C660.2,939.2 659.7,945.0 657.0,955.0C654.3,965.0 649.5,981.7 645.0,990.0C640.5,998.3 632.5,1002.5 630.0,1005.0C626.7,1004.5 613.8,999.5 610.0,1002.0C606.2,1004.5 606.7,1012.0 607.0,1020.0C607.3,1028.0 612.0,1040.0 612.0,1050.0C612.0,1060.0 608.8,1070.8 607.0,1080.0C605.2,1089.2 601.3,1096.7 601.0,1105.0C600.7,1113.3 602.3,1124.0 605.0,1130.0C607.7,1136.0 612.0,1139.8 617.0,1141.0C622.0,1142.2 632.0,1137.7 635.0,1137.0" fill="none" stroke="#3f2413" stroke-width="3.4" stroke-linejoin="round"/>
<path d="M575.0,279.0C573.7,280.8 569.2,285.5 567.0,290.0C564.8,294.5 563.2,300.2 562.0,306.0C560.8,311.8 560.3,318.7 560.0,325.0C559.7,331.3 559.2,336.7 560.0,344.0C560.8,351.3 562.5,360.7 565.0,369.0C567.5,377.3 571.3,385.7 575.0,394.0C578.7,402.3 582.0,410.7 587.0,419.0C592.0,427.3 599.5,436.3 605.0,444.0C610.5,451.7 612.5,457.3 620.0,465.0C627.5,472.7 640.8,483.5 650.0,490.0C659.2,496.5 666.7,501.3 675.0,504.0C683.3,506.7 692.2,508.0 700.0,506.0C707.8,504.0 716.2,498.0 722.0,492.0C727.8,486.0 732.2,478.7 735.0,470.0C737.8,461.3 739.5,449.2 739.0,440.0C738.5,430.8 733.2,419.2 732.0,415.0C730.8,412.5 727.6,405.5 725.0,400.0C722.4,394.5 719.5,388.2 716.5,382.0C713.5,375.8 710.9,369.7 707.0,363.0C703.1,356.3 697.5,348.7 693.0,342.0C688.5,335.3 685.2,330.0 680.0,323.0C674.8,316.0 666.7,305.7 662.0,300.0C657.3,294.3 653.7,290.8 652.0,289.0C651.2,290.3 649.5,294.5 647.0,297.0C644.5,299.5 642.2,302.5 637.0,304.0C631.8,305.5 622.7,305.5 616.0,306.0C609.3,306.5 600.2,306.8 597.0,307.0C596.5,306.2 596.0,305.2 594.0,302.0C592.0,298.8 588.2,291.8 585.0,288.0C581.8,284.2 576.7,280.5 575.0,279.0Z" fill="#dcc2a9"/>
<g clip-path="url(#cpPat)">
<path d="M612.0,326.0C614.3,322.2 619.0,319.5 624.0,317.0C629.0,314.5 636.3,313.2 642.0,311.0C647.7,308.8 652.3,301.7 658.0,304.0C663.7,306.3 669.7,316.5 676.0,325.0C682.3,333.5 689.7,344.5 696.0,355.0C702.3,365.5 708.7,376.3 714.0,388.0C719.3,399.7 724.8,415.5 728.0,425.0C731.2,434.5 733.0,440.3 733.0,445.0C733.0,449.7 731.0,451.5 728.0,453.0C725.0,454.5 720.5,454.5 715.0,454.0C709.5,453.5 702.5,452.3 695.0,450.0C687.5,447.7 678.3,445.0 670.0,440.0C661.7,435.0 651.2,426.3 645.0,420.0C638.8,413.7 636.3,407.0 633.0,402.0C629.7,397.0 628.3,397.0 625.0,390.0C621.7,383.0 615.5,368.3 613.0,360.0C610.5,351.7 610.2,345.7 610.0,340.0C609.8,334.3 609.7,329.8 612.0,326.0Z" fill="#e8d9cd"/>
<path d="M597.0,307.0C600.2,306.8 609.3,306.5 616.0,306.0C622.7,305.5 631.8,305.5 637.0,304.0C642.2,302.5 644.0,299.7 647.0,297.0C650.0,294.3 653.7,289.5 655.0,288.0C656.7,290.0 665.5,297.0 665.0,300.0C664.5,303.0 656.5,304.2 652.0,306.0C647.5,307.8 644.0,309.7 638.0,311.0C632.0,312.3 622.8,313.5 616.0,314.0C609.2,314.5 600.2,314.0 597.0,314.0Z" fill="#e6d4c3"/>
<path d="M575.0,270.0C576.7,273.5 582.2,285.3 585.0,291.0C587.8,296.7 590.2,298.3 592.0,304.0C593.8,309.7 594.7,318.2 596.0,325.0C597.3,331.8 598.8,339.2 600.0,345.0C601.2,350.8 601.3,352.5 603.0,360.0C604.7,367.5 607.2,380.0 610.0,390.0C612.8,400.0 616.3,410.0 620.0,420.0C623.7,430.0 628.7,442.0 632.0,450.0C635.3,458.0 637.3,463.0 640.0,468.0C642.7,473.0 646.7,478.0 648.0,480.0L640.0,490.0C633.3,483.3 611.7,466.7 600.0,450.0C588.3,433.3 578.3,410.0 570.0,390.0C561.7,370.0 549.2,350.0 550.0,330.0C550.8,310.0 570.8,280.0 575.0,270.0Z" fill="#93735f"/>
<path d="M636.0,470.0C637.8,471.3 641.3,474.7 647.0,478.0C652.7,481.3 662.8,487.7 670.0,490.0C677.2,492.3 683.3,493.2 690.0,492.0C696.7,490.8 704.5,486.7 710.0,483.0C715.5,479.3 719.8,474.2 723.0,470.0C726.2,465.8 727.2,462.0 729.0,458.0C730.8,454.0 731.3,449.0 734.0,446.0C736.7,443.0 743.2,441.0 745.0,440.0C745.0,446.7 749.2,467.5 745.0,480.0C740.8,492.5 730.8,508.3 720.0,515.0C709.2,521.7 694.0,527.5 680.0,520.0C666.0,512.5 643.3,478.3 636.0,470.0Z" fill="#c8a78e"/>
</g>
<path d="M575.0,279.0C573.7,280.8 569.2,285.5 567.0,290.0C564.8,294.5 563.2,300.2 562.0,306.0C560.8,311.8 560.3,318.7 560.0,325.0C559.7,331.3 559.2,336.7 560.0,344.0C560.8,351.3 562.5,360.7 565.0,369.0C567.5,377.3 571.3,385.7 575.0,394.0C578.7,402.3 582.0,410.7 587.0,419.0C592.0,427.3 599.5,436.3 605.0,444.0C610.5,451.7 612.5,457.3 620.0,465.0C627.5,472.7 640.8,483.5 650.0,490.0C659.2,496.5 666.7,501.3 675.0,504.0C683.3,506.7 692.2,508.0 700.0,506.0C707.8,504.0 716.2,498.0 722.0,492.0C727.8,486.0 732.2,478.7 735.0,470.0C737.8,461.3 739.5,449.2 739.0,440.0C738.5,430.8 733.2,419.2 732.0,415.0" fill="none" stroke="#3f2413" stroke-width="3.4"/>
<path d="M339.0,12.0C343.7,14.2 358.2,20.7 367.0,25.0C375.8,29.3 383.7,33.2 392.0,38.0C400.3,42.8 408.7,48.5 417.0,54.0C425.3,59.5 433.7,64.7 442.0,71.0C450.3,77.3 458.7,83.8 467.0,92.0C475.3,100.2 483.7,110.7 492.0,120.0C500.3,129.3 509.5,139.5 517.0,148.0C524.5,156.5 529.5,162.5 537.0,171.0C544.5,179.5 553.7,190.0 562.0,199.0C570.3,208.0 578.7,217.0 587.0,225.0C595.3,233.0 604.7,240.2 612.0,247.0C619.3,253.8 624.7,259.3 631.0,266.0C637.3,272.7 644.8,281.3 650.0,287.0C655.2,292.7 657.0,294.0 662.0,300.0C667.0,306.0 674.8,316.0 680.0,323.0C685.2,330.0 688.5,335.3 693.0,342.0C697.5,348.7 703.1,356.3 707.0,363.0C710.9,369.7 713.5,375.8 716.5,382.0C719.5,388.2 722.4,394.5 725.0,400.0C727.6,405.5 729.8,410.2 732.0,415.0C734.2,419.8 735.3,422.3 738.0,429.0C740.7,435.7 744.8,446.7 748.0,455.0C751.2,463.3 754.3,469.5 757.0,479.0C759.7,488.5 761.5,496.0 764.0,512.0C766.5,528.0 770.0,556.7 772.0,575.0C774.0,593.3 774.8,609.5 776.0,622.0C777.2,634.5 778.8,632.8 779.0,650.0C779.2,667.2 778.5,700.0 777.0,725.0C775.5,750.0 773.3,777.2 770.0,800.0C766.7,822.8 760.3,848.7 757.0,862.0C753.7,875.3 753.3,868.7 750.0,880.0C746.7,891.3 742.0,913.3 737.0,930.0C732.0,946.7 727.0,962.5 720.0,980.0C713.0,997.5 704.2,1016.3 695.0,1035.0C685.8,1053.7 675.0,1075.0 665.0,1092.0C655.0,1109.0 640.0,1129.5 635.0,1137.0" fill="none" stroke="#3f2413" stroke-width="3.6" stroke-linejoin="round" stroke-linecap="round"/>
<path d="M281.0,765.0C280.3,775.0 276.8,804.7 277.0,825.0C277.2,845.3 279.8,873.7 282.0,887.0C284.2,900.3 285.8,899.2 290.0,905.0C294.2,910.8 302.0,916.7 307.0,922.0C312.0,927.3 317.2,931.5 320.0,937.0C322.8,942.5 323.8,947.8 324.0,955.0C324.2,962.2 322.2,973.3 321.0,980.0C319.8,986.7 317.7,992.5 317.0,995.0C314.2,1000.8 306.2,1016.7 300.0,1030.0C293.8,1043.3 284.7,1063.7 280.0,1075.0C275.3,1086.3 272.8,1091.8 272.0,1098.0C271.2,1104.2 273.0,1104.7 275.0,1112.0C277.0,1119.3 281.2,1129.7 284.0,1142.0C286.8,1154.3 290.7,1178.7 292.0,1186.0L611.0,1186.0C612.8,1182.8 618.0,1175.2 622.0,1167.0C626.0,1158.8 632.8,1142.0 635.0,1137.0C632.0,1137.7 622.0,1142.2 617.0,1141.0C612.0,1139.8 607.7,1136.0 605.0,1130.0C602.3,1124.0 600.7,1113.3 601.0,1105.0C601.3,1096.7 605.2,1089.2 607.0,1080.0C608.8,1070.8 612.0,1060.0 612.0,1050.0C612.0,1040.0 607.3,1028.0 607.0,1020.0C606.7,1012.0 609.5,1005.0 610.0,1002.0C613.3,1002.5 624.2,1007.0 630.0,1005.0C635.8,1003.0 640.5,998.3 645.0,990.0C649.5,981.7 654.3,965.0 657.0,955.0C659.7,945.0 660.2,939.2 661.0,930.0C661.8,920.8 661.8,911.3 662.0,900.0C662.2,888.7 663.7,874.5 662.0,862.0C660.3,849.5 654.8,837.5 652.0,825.0C649.2,812.5 646.3,799.5 645.0,787.0C643.7,774.5 644.2,756.2 644.0,750.0C620.0,748.3 560.5,740.8 500.0,740.0C439.5,739.2 317.5,744.2 281.0,745.0Z" fill="#dcc2a9"/>
<g clip-path="url(#cpTib)">
<path d="M490.0,755.0C491.7,756.7 490.8,761.3 500.0,765.0C509.2,768.7 531.3,771.2 545.0,777.0C558.7,782.8 572.0,792.0 582.0,800.0C592.0,808.0 601.7,816.7 605.0,825.0C608.3,833.3 605.8,839.7 602.0,850.0C598.2,860.3 589.5,873.7 582.0,887.0C574.5,900.3 565.3,915.3 557.0,930.0C548.7,944.7 540.3,959.2 532.0,975.0C523.7,990.8 514.0,1010.0 507.0,1025.0C500.0,1040.0 494.5,1052.5 490.0,1065.0C485.5,1077.5 482.5,1087.5 480.0,1100.0C477.5,1112.5 475.8,1125.0 475.0,1140.0C474.2,1155.0 475.0,1181.7 475.0,1190.0C512.5,1190.0 662.5,1263.3 700.0,1190.0C737.5,1116.7 735.0,822.5 700.0,750.0C665.0,677.5 525.0,754.2 490.0,755.0Z" fill="#b69985"/>
<path d="M445.0,755.0C443.3,756.7 439.2,761.7 435.0,765.0C430.8,768.3 426.7,771.5 420.0,775.0C413.3,778.5 403.3,784.0 395.0,786.0C386.7,788.0 378.3,787.7 370.0,787.0C361.7,786.3 353.3,782.0 345.0,782.0C336.7,782.0 327.2,784.0 320.0,787.0C312.8,790.0 307.8,793.7 302.0,800.0C296.2,806.3 288.7,816.7 285.0,825.0C281.3,833.3 281.2,842.5 280.0,850.0C278.8,857.5 278.3,866.7 278.0,870.0C275.0,870.0 263.0,890.0 260.0,870.0C257.0,850.0 229.2,769.2 260.0,750.0C290.8,730.8 414.2,754.2 445.0,755.0Z" fill="#b69985"/>
<path d="M317.0,817.0C317.3,810.3 321.2,805.3 327.0,802.0C332.8,798.7 340.7,797.0 352.0,797.0C363.3,797.0 381.7,800.7 395.0,802.0C408.3,803.3 419.5,806.2 432.0,805.0C444.5,803.8 457.5,797.5 470.0,795.0C482.5,792.5 495.3,789.7 507.0,790.0C518.7,790.3 531.2,792.8 540.0,797.0C548.8,801.2 556.3,808.7 560.0,815.0C563.7,821.3 563.7,827.2 562.0,835.0C560.3,842.8 557.0,852.0 550.0,862.0C543.0,872.0 530.0,884.5 520.0,895.0C510.0,905.5 499.2,914.7 490.0,925.0C480.8,935.3 472.5,946.2 465.0,957.0C457.5,967.8 450.8,978.7 445.0,990.0C439.2,1001.3 434.2,1011.3 430.0,1025.0C425.8,1038.7 424.2,1057.0 420.0,1072.0C415.8,1087.0 409.2,1103.3 405.0,1115.0C400.8,1126.7 397.7,1142.8 395.0,1142.0C392.3,1141.2 389.8,1121.7 389.0,1110.0C388.2,1098.3 388.7,1086.2 390.0,1072.0C391.3,1057.8 393.7,1041.2 397.0,1025.0C400.3,1008.8 407.0,989.7 410.0,975.0C413.0,960.3 414.7,949.5 415.0,937.0C415.3,924.5 415.3,910.3 412.0,900.0C408.7,889.7 402.0,881.7 395.0,875.0C388.0,868.3 378.3,863.3 370.0,860.0C361.7,856.7 352.5,858.0 345.0,855.0C337.5,852.0 329.7,848.3 325.0,842.0C320.3,835.7 316.7,823.7 317.0,817.0Z" fill="#e8d9cd"/>
<path d="M280.0,1100.0C283.3,1101.7 294.2,1103.3 300.0,1110.0C305.8,1116.7 311.3,1126.7 315.0,1140.0C318.7,1153.3 320.8,1181.7 322.0,1190.0C316.7,1190.0 298.7,1205.0 290.0,1190.0C281.3,1175.0 273.3,1115.0 270.0,1100.0Z" fill="#b69985"/>
</g>
<path d="M281.0,765.0C280.3,775.0 276.8,804.7 277.0,825.0C277.2,845.3 279.8,873.7 282.0,887.0C284.2,900.3 285.8,899.2 290.0,905.0C294.2,910.8 302.0,916.7 307.0,922.0C312.0,927.3 317.2,931.5 320.0,937.0C322.8,942.5 323.8,947.8 324.0,955.0C324.2,962.2 322.2,973.3 321.0,980.0C319.8,986.7 317.7,992.5 317.0,995.0C314.2,1000.8 306.2,1016.7 300.0,1030.0C293.8,1043.3 284.7,1063.7 280.0,1075.0C275.3,1086.3 272.8,1091.8 272.0,1098.0C271.2,1104.2 273.0,1104.7 275.0,1112.0C277.0,1119.3 281.2,1129.7 284.0,1142.0C286.8,1154.3 290.7,1178.7 292.0,1186.0L611.0,1186.0C612.8,1182.8 618.0,1175.2 622.0,1167.0C626.0,1158.8 632.8,1142.0 635.0,1137.0C632.0,1137.7 622.0,1142.2 617.0,1141.0C612.0,1139.8 607.7,1136.0 605.0,1130.0C602.3,1124.0 600.7,1113.3 601.0,1105.0C601.3,1096.7 605.2,1089.2 607.0,1080.0C608.8,1070.8 612.0,1060.0 612.0,1050.0C612.0,1040.0 607.3,1028.0 607.0,1020.0C606.7,1012.0 609.5,1005.0 610.0,1002.0C613.3,1002.5 624.2,1007.0 630.0,1005.0C635.8,1003.0 640.5,998.3 645.0,990.0C649.5,981.7 654.3,965.0 657.0,955.0C659.7,945.0 660.2,939.2 661.0,930.0C661.8,920.8 661.8,911.3 662.0,900.0C662.2,888.7 663.7,874.5 662.0,862.0C660.3,849.5 654.8,837.5 652.0,825.0C649.2,812.5 646.3,799.5 645.0,787.0C643.7,774.5 644.2,756.2 644.0,750.0C620.0,748.3 560.5,740.8 500.0,740.0C439.5,739.2 317.5,744.2 281.0,745.0Z" fill="none" stroke="#3f2413" stroke-width="3.4" stroke-linejoin="round"/>
<path d="M317.0,995.0C318.3,1005.0 322.0,1032.5 325.0,1055.0C328.0,1077.5 332.3,1108.3 335.0,1130.0C337.7,1151.7 340.0,1175.8 341.0,1185.0" fill="none" stroke="#3f2413" stroke-width="2"/>
<path d="M287.0,730.0C290.0,725.5 293.7,724.5 300.0,723.0C306.3,721.5 308.3,721.7 325.0,721.0C341.7,720.3 366.7,719.3 400.0,719.0C433.3,718.7 490.8,718.5 525.0,719.0C559.2,719.5 588.3,720.8 605.0,722.0C621.7,723.2 619.5,723.8 625.0,726.0C630.5,728.2 634.8,731.0 638.0,735.0C641.2,739.0 643.8,745.2 644.0,750.0C644.2,754.8 641.8,760.5 639.0,764.0C636.2,767.5 631.8,770.0 627.0,771.0C622.2,772.0 621.2,770.8 610.0,770.0C598.8,769.2 578.3,767.3 560.0,766.0C541.7,764.7 526.7,763.0 500.0,762.0C473.3,761.0 425.0,759.5 400.0,760.0C375.0,760.5 364.7,763.3 350.0,765.0C335.3,766.7 321.7,769.8 312.0,770.0C302.3,770.2 297.0,769.3 292.0,766.0C287.0,762.7 282.8,756.0 282.0,750.0C281.2,744.0 284.0,734.5 287.0,730.0Z" fill="#d3d4dc"/>
<g clip-path="url(#cpMen)">
<path d="M280.0,748.0C285.0,746.7 288.3,760.3 300.0,762.0C311.7,763.7 333.3,759.0 350.0,758.0C366.7,757.0 383.3,756.3 400.0,756.0C416.7,755.7 432.2,756.7 450.0,756.0C467.8,755.3 490.3,753.3 507.0,752.0C523.7,750.7 536.2,748.8 550.0,748.0C563.8,747.2 577.5,746.7 590.0,747.0C602.5,747.3 616.3,748.3 625.0,750.0C633.7,751.7 637.8,752.0 642.0,757.0C646.2,762.0 673.7,776.2 650.0,780.0C626.3,783.8 558.3,779.2 500.0,780.0C441.7,780.8 338.3,786.7 300.0,785.0C261.7,783.3 273.3,776.2 270.0,770.0C266.7,763.8 275.0,749.3 280.0,748.0Z" fill="#a9a8bb"/>
<path d="M288.0,732.0C294.0,727.7 301.3,725.7 320.0,724.0C338.7,722.3 373.3,722.5 400.0,722.0C426.7,721.5 460.0,720.7 480.0,721.0C500.0,721.3 520.0,722.5 520.0,724.0C520.0,725.5 496.7,728.5 480.0,730.0C463.3,731.5 440.0,731.7 420.0,733.0C400.0,734.3 376.7,735.8 360.0,738.0C343.3,740.2 330.3,743.0 320.0,746.0C309.7,749.0 304.0,755.3 298.0,756.0C292.0,756.7 285.7,754.0 284.0,750.0C282.3,746.0 282.0,736.3 288.0,732.0Z" fill="#e2e3ea"/>
</g>
<path d="M287.0,730.0C290.0,725.5 293.7,724.5 300.0,723.0C306.3,721.5 308.3,721.7 325.0,721.0C341.7,720.3 366.7,719.3 400.0,719.0C433.3,718.7 490.8,718.5 525.0,719.0C559.2,719.5 588.3,720.8 605.0,722.0C621.7,723.2 619.5,723.8 625.0,726.0C630.5,728.2 634.8,731.0 638.0,735.0C641.2,739.0 643.8,745.2 644.0,750.0C644.2,754.8 641.8,760.5 639.0,764.0C636.2,767.5 631.8,770.0 627.0,771.0C622.2,772.0 621.2,770.8 610.0,770.0C598.8,769.2 578.3,767.3 560.0,766.0C541.7,764.7 526.7,763.0 500.0,762.0C473.3,761.0 425.0,759.5 400.0,760.0C375.0,760.5 364.7,763.3 350.0,765.0C335.3,766.7 321.7,769.8 312.0,770.0C302.3,770.2 297.0,769.3 292.0,766.0C287.0,762.7 282.8,756.0 282.0,750.0C281.2,744.0 284.0,734.5 287.0,730.0Z" fill="none" stroke="#3f2413" stroke-width="2.5"/>
<path d="M186.0,897.0C184.2,906.7 178.5,932.8 175.0,955.0C171.5,977.2 167.7,1005.0 165.0,1030.0C162.3,1055.0 160.5,1079.0 159.0,1105.0C157.5,1131.0 156.5,1172.5 156.0,1186.0L255.0,1186.0C258.3,1172.5 267.5,1129.0 275.0,1105.0C282.5,1081.0 293.0,1060.8 300.0,1042.0C307.0,1023.2 312.8,1006.5 317.0,992.0C321.2,977.5 324.5,964.5 325.0,955.0C325.5,945.5 320.8,938.3 320.0,935.0C316.7,933.3 313.3,928.3 300.0,925.0C286.7,921.7 259.0,919.7 240.0,915.0C221.0,910.3 195.0,900.0 186.0,897.0Z" fill="#dcc2a9"/>
<g clip-path="url(#cpFib)">
<path d="M180.0,900.0C183.3,900.8 194.2,900.0 200.0,905.0C205.8,910.0 215.8,917.5 215.0,930.0C214.2,942.5 200.8,961.7 195.0,980.0C189.2,998.3 184.2,1020.0 180.0,1040.0C175.8,1060.0 172.5,1081.7 170.0,1100.0C167.5,1118.3 166.7,1135.0 165.0,1150.0C163.3,1165.0 160.8,1183.3 160.0,1190.0C156.7,1190.0 141.7,1221.7 140.0,1190.0C138.3,1158.3 143.3,1048.3 150.0,1000.0C156.7,951.7 175.0,916.7 180.0,900.0Z" fill="#e5d1be"/>
<path d="M260.0,935.0L330.0,935.0C329.2,939.2 330.0,942.2 325.0,960.0C320.0,977.8 308.3,1017.8 300.0,1042.0C291.7,1066.2 282.5,1080.3 275.0,1105.0C267.5,1129.7 258.3,1175.8 255.0,1190.0C243.8,1190.0 196.3,1198.3 188.0,1190.0C179.7,1181.7 198.3,1159.2 205.0,1140.0C211.7,1120.8 221.3,1095.5 228.0,1075.0C234.7,1054.5 240.7,1033.3 245.0,1017.0C249.3,1000.7 251.2,990.7 254.0,977.0C256.8,963.3 260.7,942.0 262.0,935.0Z" fill="#b69985"/>
</g>
<path d="M186.0,897.0C184.2,906.7 178.5,932.8 175.0,955.0C171.5,977.2 167.7,1005.0 165.0,1030.0C162.3,1055.0 160.5,1079.0 159.0,1105.0C157.5,1131.0 156.5,1172.5 156.0,1186.0L255.0,1186.0C258.3,1172.5 267.5,1129.0 275.0,1105.0C282.5,1081.0 293.0,1060.8 300.0,1042.0C307.0,1023.2 312.8,1006.5 317.0,992.0C321.2,977.5 324.5,964.5 325.0,955.0C325.5,945.5 320.8,938.3 320.0,935.0C316.7,933.3 313.3,928.3 300.0,925.0C286.7,921.7 259.0,919.7 240.0,915.0C221.0,910.3 195.0,900.0 186.0,897.0Z" fill="none" stroke="#3f2413" stroke-width="3.4" stroke-linejoin="round"/>
<path d="M326.0,382.5C325.2,382.7 324.1,381.2 321.0,383.5C317.9,385.8 313.5,389.2 307.5,396.0C301.5,402.8 293.8,413.0 285.0,424.5C276.2,436.0 263.8,453.2 255.0,465.0C246.2,476.8 237.1,488.2 232.5,495.0C227.9,501.8 228.8,502.2 227.5,506.0C226.2,509.8 226.8,509.7 225.0,517.5C223.2,525.3 219.2,544.2 217.0,553.0C214.8,561.8 214.8,560.5 212.0,570.0C209.2,579.5 204.2,594.7 200.0,610.0C195.8,625.3 190.3,642.8 187.0,662.0C183.7,681.2 181.3,704.2 180.0,725.0C178.7,745.8 178.8,766.2 179.0,787.0C179.2,807.8 179.8,831.7 181.0,850.0C182.2,868.3 185.2,889.2 186.0,897.0C189.2,900.3 196.0,911.2 205.0,917.0C214.0,922.8 228.3,928.2 240.0,932.0C251.7,935.8 265.0,938.7 275.0,940.0C285.0,941.3 292.8,940.7 300.0,940.0C307.2,939.3 315.0,936.7 318.0,936.0C316.2,933.7 311.7,928.0 307.0,922.0C302.3,916.0 294.5,907.8 290.0,900.0C285.5,892.2 282.3,885.5 280.0,875.0C277.7,864.5 275.8,853.7 276.0,837.0C276.2,820.3 280.3,793.7 281.0,775.0C281.7,756.3 280.7,739.7 280.0,725.0C279.3,710.3 278.3,700.0 277.0,687.0C275.7,674.0 274.0,656.5 272.0,647.0C270.0,637.5 265.3,637.0 265.0,630.0C264.7,623.0 266.3,614.2 270.0,605.0C273.7,595.8 280.8,585.5 287.0,575.0C293.2,564.5 300.7,549.7 307.0,542.0C313.3,534.3 315.8,531.8 325.0,529.0C334.2,526.2 351.7,526.3 362.0,525.0C372.3,523.7 382.8,521.7 387.0,521.0C385.5,519.2 381.8,514.3 378.0,510.0C374.2,505.7 369.5,501.0 364.5,495.0C359.5,489.0 352.8,481.5 348.0,474.0C343.2,466.5 338.8,457.2 336.0,450.0C333.2,442.8 332.5,437.2 331.5,430.5C330.5,423.8 330.9,417.2 330.0,409.5C329.1,401.8 326.7,388.2 326.0,384.0Z" fill="#dfdfe6"/>
<g clip-path="url(#cpL11)">
<path d="M320.0,405.0C316.3,412.5 306.3,434.2 298.0,450.0C289.7,465.8 278.8,481.7 270.0,500.0C261.2,518.3 252.5,536.7 245.0,560.0C237.5,583.3 231.2,613.3 225.0,640.0C218.8,666.7 211.8,695.0 208.0,720.0C204.2,745.0 202.2,768.3 202.0,790.0C201.8,811.7 205.0,834.2 207.0,850.0C209.0,865.8 211.2,875.3 214.0,885.0C216.8,894.7 220.3,901.8 224.0,908.0C227.7,914.2 232.3,919.2 236.0,922.0C239.7,924.8 244.3,924.5 246.0,925.0C247.3,923.7 252.3,921.2 254.0,917.0C255.7,912.8 256.3,907.8 256.0,900.0C255.7,892.2 253.8,886.7 252.0,870.0C250.2,853.3 246.2,825.0 245.0,800.0C243.8,775.0 244.2,745.0 245.0,720.0C245.8,695.0 246.5,671.7 250.0,650.0C253.5,628.3 258.0,610.0 266.0,590.0C274.0,570.0 288.7,548.3 298.0,530.0C307.3,511.7 317.0,496.7 322.0,480.0C327.0,463.3 328.3,442.5 328.0,430.0C327.7,417.5 321.3,409.2 320.0,405.0Z" fill="#efeff4"/>
<path d="M353.0,488.0C349.2,490.7 337.7,497.8 330.0,504.0C322.3,510.2 314.0,516.8 307.0,525.0C300.0,533.2 294.5,543.5 288.0,553.0C281.5,562.5 273.5,573.8 268.0,582.0C262.5,590.2 258.5,594.0 255.0,602.0C251.5,610.0 249.2,619.2 247.0,630.0C244.8,640.8 242.3,655.0 242.0,667.0C241.7,679.0 244.3,686.5 245.0,702.0C245.7,717.5 245.8,738.7 246.0,760.0C246.2,781.3 245.0,811.3 246.0,830.0C247.0,848.7 250.3,860.3 252.0,872.0C253.7,883.7 255.7,892.5 256.0,900.0C256.3,907.5 255.7,912.7 254.0,917.0C252.3,921.3 249.0,925.0 246.0,926.0C243.0,927.0 239.0,924.7 236.0,923.0C233.0,921.3 229.3,917.2 228.0,916.0C227.5,921.7 208.0,944.3 225.0,950.0C242.0,955.7 315.8,954.2 330.0,950.0C344.2,945.8 316.7,933.3 310.0,925.0C303.3,916.7 295.0,908.3 290.0,900.0C285.0,891.7 282.3,885.5 280.0,875.0C277.7,864.5 275.8,853.7 276.0,837.0C276.2,820.3 280.3,793.7 281.0,775.0C281.7,756.3 280.7,739.7 280.0,725.0C279.3,710.3 278.3,700.0 277.0,687.0C275.7,674.0 274.0,656.5 272.0,647.0C270.0,637.5 265.3,637.0 265.0,630.0C264.7,623.0 266.3,614.2 270.0,605.0C273.7,595.8 280.8,585.5 287.0,575.0C293.2,564.5 300.7,549.7 307.0,542.0C313.3,534.3 322.0,531.2 325.0,529.0C327.2,527.5 334.5,524.0 338.0,520.0C341.5,516.0 343.5,510.3 346.0,505.0C348.5,499.7 351.8,490.8 353.0,488.0Z" fill="#a9a8bb"/>
<path d="M192.0,640.0C191.2,643.7 189.0,647.8 187.0,662.0C185.0,676.2 181.3,704.2 180.0,725.0C178.7,745.8 178.8,767.8 179.0,787.0C179.2,806.2 179.8,826.5 181.0,840.0C182.2,853.5 184.3,858.8 186.0,868.0C187.7,877.2 188.3,887.0 191.0,895.0C193.7,903.0 200.2,912.5 202.0,916.0C204.5,917.5 215.7,929.3 217.0,925.0C218.3,920.7 212.0,900.8 210.0,890.0C208.0,879.2 206.7,871.7 205.0,860.0C203.3,848.3 201.5,836.7 200.0,820.0C198.5,803.3 197.0,780.0 196.0,760.0C195.0,740.0 194.7,720.0 194.0,700.0C193.3,680.0 192.3,650.0 192.0,640.0Z" fill="#a9a8bb"/>
</g>
<path d="M326.0,382.5C325.2,382.7 324.1,381.2 321.0,383.5C317.9,385.8 313.5,389.2 307.5,396.0C301.5,402.8 293.8,413.0 285.0,424.5C276.2,436.0 263.8,453.2 255.0,465.0C246.2,476.8 237.1,488.2 232.5,495.0C227.9,501.8 228.8,502.2 227.5,506.0C226.2,509.8 226.8,509.7 225.0,517.5C223.2,525.3 219.2,544.2 217.0,553.0C214.8,561.8 214.8,560.5 212.0,570.0C209.2,579.5 204.2,594.7 200.0,610.0C195.8,625.3 190.3,642.8 187.0,662.0C183.7,681.2 181.3,704.2 180.0,725.0C178.7,745.8 178.8,766.2 179.0,787.0C179.2,807.8 179.8,831.7 181.0,850.0C182.2,868.3 185.2,889.2 186.0,897.0C189.2,900.3 196.0,911.2 205.0,917.0C214.0,922.8 228.3,928.2 240.0,932.0C251.7,935.8 265.0,938.7 275.0,940.0C285.0,941.3 292.8,940.7 300.0,940.0C307.2,939.3 315.0,936.7 318.0,936.0C316.2,933.7 311.7,928.0 307.0,922.0C302.3,916.0 294.5,907.8 290.0,900.0C285.5,892.2 282.3,885.5 280.0,875.0C277.7,864.5 275.8,853.7 276.0,837.0C276.2,820.3 280.3,793.7 281.0,775.0C281.7,756.3 280.7,739.7 280.0,725.0C279.3,710.3 278.3,700.0 277.0,687.0C275.7,674.0 274.0,656.5 272.0,647.0C270.0,637.5 265.3,637.0 265.0,630.0C264.7,623.0 266.3,614.2 270.0,605.0C273.7,595.8 280.8,585.5 287.0,575.0C293.2,564.5 300.7,549.7 307.0,542.0C313.3,534.3 315.8,531.8 325.0,529.0C334.2,526.2 351.7,526.3 362.0,525.0C372.3,523.7 382.8,521.7 387.0,521.0" fill="none" stroke="#3f2413" stroke-width="3.4" stroke-linejoin="round" stroke-linecap="round"/>
<path d="M296,556 L311,563" stroke="#9b7c66" stroke-width="1.5" fill="none"/>
<line x1="147.5" y1="86" x2="322.5" y2="114.5" stroke="#000" stroke-width="3.6" stroke-linecap="round"/>
<line x1="617" y1="257" x2="730" y2="248" stroke="#000" stroke-width="3.6" stroke-linecap="round"/>
<line x1="547.5" y1="572.5" x2="816.6" y2="426" stroke="#000" stroke-width="1.6" stroke-linecap="round"/>
<line x1="549" y1="670" x2="829" y2="599" stroke="#000" stroke-width="3.6" stroke-linecap="round"/>
<line x1="709.5" y1="783" x2="822.5" y2="786.7" stroke="#000" stroke-width="3.6" stroke-linecap="round"/>
<line x1="464" y1="741" x2="788" y2="968.4" stroke="#000" stroke-width="3.6" stroke-linecap="round"/>
<line x1="106" y1="619" x2="299" y2="691" stroke="#000" stroke-width="1.4" stroke-linecap="round"/>
<line x1="77.5" y1="859" x2="226" y2="759" stroke="#000" stroke-width="3.6" stroke-linecap="round"/>
<text x="125.5" y="101.5" font-size="60.5" text-anchor="middle" fill="#000" stroke="#000" stroke-width="0.3">9</text>
<text x="774.5" y="270" font-size="60.5" text-anchor="middle" fill="#000" stroke="#000" stroke-width="0.3">12</text>
<text x="398" y="387" font-size="60.5" text-anchor="middle" fill="#000" stroke="#000" stroke-width="0.3">1</text>
<text x="675" y="406" font-size="60.5" text-anchor="middle" fill="#000" stroke="#000" stroke-width="0.3">2</text>
<text x="841" y="440.5" font-size="60.5" text-anchor="middle" fill="#000" stroke="#000" stroke-width="0.3">5</text>
<text x="870.5" y="632.5" font-size="60.5" text-anchor="middle" fill="#000" stroke="#000" stroke-width="0.3">6</text>
<text x="849" y="817" font-size="60.5" text-anchor="middle" fill="#000" stroke="#000" stroke-width="0.3">7</text>
<text x="820.5" y="999" font-size="60.5" text-anchor="middle" fill="#000" stroke="#000" stroke-width="0.3">8</text>
<text x="450.5" y="898.5" font-size="60.5" text-anchor="middle" fill="#000" stroke="#000" stroke-width="0.3">3</text>
<text x="226.5" y="1016" font-size="60.5" text-anchor="middle" fill="#000" stroke="#000" stroke-width="0.3">4</text>
<text x="68.5" y="639" font-size="60.5" text-anchor="middle" fill="#000" stroke="#000" stroke-width="0.3">10</text>
<text x="35" y="891" font-size="60.5" text-anchor="middle" fill="#000" stroke="#000" stroke-width="0.3">11</text>
<rect x="888.5" y="9.5" width="701" height="87.5" fill="#ffffc2" stroke="#8a8a70" stroke-width="1"/>
<text x="932" y="78.5" font-size="69" textLength="627" lengthAdjust="spacingAndGlyphs" fill="#000" stroke="#000" stroke-width="0.5">Anatomy of the knee</text>
<text x="934" y="218.8" font-size="67.5" fill="#000" stroke="#000" stroke-width="0.4">1</text>
<rect x="969" y="224.4" width="601" height="4" fill="#000"/>
<text x="934" y="303.8" font-size="67.5" fill="#000" stroke="#000" stroke-width="0.4">2</text>
<rect x="969" y="309.4" width="601" height="4" fill="#000"/>
<text x="934" y="388.8" font-size="67.5" fill="#000" stroke="#000" stroke-width="0.4">3</text>
<rect x="969" y="394.4" width="601" height="4" fill="#000"/>
<text x="934" y="473.8" font-size="67.5" fill="#000" stroke="#000" stroke-width="0.4">4</text>
<rect x="969" y="479.4" width="601" height="4" fill="#000"/>
<text x="934" y="558.8" font-size="67.5" fill="#000" stroke="#000" stroke-width="0.4">5</text>
<rect x="969" y="564.5" width="601" height="4" fill="#000"/>
<text x="934" y="643.8" font-size="67.5" fill="#000" stroke="#000" stroke-width="0.4">6</text>
<rect x="969" y="649.5" width="601" height="4" fill="#000"/>
<text x="934" y="728.8" font-size="67.5" fill="#000" stroke="#000" stroke-width="0.4">7</text>
<rect x="969" y="734.5" width="601" height="4" fill="#000"/>
<text x="934" y="813.8" font-size="67.5" fill="#000" stroke="#000" stroke-width="0.4">8</text>
<rect x="969" y="819.5" width="601" height="4" fill="#000"/>
<text x="934" y="898.8" font-size="67.5" fill="#000" stroke="#000" stroke-width="0.4">9</text>
<rect x="969" y="904.5" width="601" height="4" fill="#000"/>
<text x="934" y="983.8" font-size="67.5" fill="#000" stroke="#000" stroke-width="0.4">10</text>
<rect x="1005" y="989.5" width="565" height="4" fill="#000"/>
<text x="934" y="1068.8" font-size="67.5" fill="#000" stroke="#000" stroke-width="0.4">11</text>
<rect x="1005" y="1074.5" width="565" height="4" fill="#000"/>
<text x="934" y="1153.8" font-size="67.5" fill="#000" stroke="#000" stroke-width="0.4">12</text>
<rect x="1005" y="1159.5" width="565" height="4" fill="#000"/>
<g fill="none" stroke-linecap="round">
<path d="M47,172 L46,172 45,171 44,169 44,167 45,166 47,164 49,163 52,163 54,164 57,166 58,169 59,172 58,176 55,179 52,181 48,182 43,181 39,179 36,175 35,171 35,165 37,160 41,156 46,154 52,153 58,155 63,159 67,164 69,171 68,178 64,184 58,189 51,192 43,192 35,189 29,183 25,175 25,167 27,158 32,151 40,145 49,143 59,144 68,149 74,156 78,166 78,177 74,187 67,195 57,200 46,202 35,199 25,193 18,183 15,172 16,159" stroke="#000" stroke-opacity="0.045" stroke-width="7.5"/>
<path d="M47,172 L46,172 45,171 44,169 44,167 45,166 47,164 49,163 52,163 54,164 57,166 58,169 59,172 58,176 55,179 52,181 48,182 43,181 39,179 36,175 35,171 35,165 37,160 41,156 46,154 52,153 58,155 63,159 67,164 69,171 68,178 64,184 58,189 51,192 43,192 35,189 29,183 25,175 25,167 27,158 32,151 40,145 49,143 59,144 68,149 74,156 78,166 78,177 74,187 67,195 57,200 46,202 35,199 25,193 18,183 15,172 16,159" stroke="#fff" stroke-opacity="0.45" stroke-width="5.5"/>
<path d="M649,172 L648,172 647,171 646,169 646,167 647,166 649,164 651,163 654,163 656,164 659,166 660,169 661,172 660,176 657,179 654,181 650,182 645,181 641,179 638,175 637,171 637,165 639,160 643,156 648,154 654,153 660,155 665,159 669,164 671,171 670,178 666,184 660,189 653,192 645,192 637,189 631,183 627,175 627,167 629,158 634,151 642,145 651,143 661,144 670,149 676,156 680,166 680,177 676,187 669,195 659,200 648,202 637,199 627,193 620,183 617,172 618,159" stroke="#000" stroke-opacity="0.045" stroke-width="7.5"/>
<path d="M649,172 L648,172 647,171 646,169 646,167 647,166 649,164 651,163 654,163 656,164 659,166 660,169 661,172 660,176 657,179 654,181 650,182 645,181 641,179 638,175 637,171 637,165 639,160 643,156 648,154 654,153 660,155 665,159 669,164 671,171 670,178 666,184 660,189 653,192 645,192 637,189 631,183 627,175 627,167 629,158 634,151 642,145 651,143 661,144 670,149 676,156 680,166 680,177 676,187 669,195 659,200 648,202 637,199 627,193 620,183 617,172 618,159" stroke="#fff" stroke-opacity="0.45" stroke-width="5.5"/>
<path d="M1251,172 L1250,172 1249,171 1248,169 1248,167 1249,166 1251,164 1253,163 1256,163 1258,164 1261,166 1262,169 1263,172 1262,176 1259,179 1256,181 1252,182 1247,181 1243,179 1240,175 1239,171 1239,165 1241,160 1245,156 1250,154 1256,153 1262,155 1267,159 1271,164 1273,171 1272,178 1268,184 1262,189 1255,192 1247,192 1239,189 1233,183 1229,175 1229,167 1231,158 1236,151 1244,145 1253,143 1263,144 1272,149 1278,156 1282,166 1282,177 1278,187 1271,195 1261,200 1250,202 1239,199 1229,193 1222,183 1219,172 1220,159" stroke="#000" stroke-opacity="0.045" stroke-width="7.5"/>
<path d="M1251,172 L1250,172 1249,171 1248,169 1248,167 1249,166 1251,164 1253,163 1256,163 1258,164 1261,166 1262,169 1263,172 1262,176 1259,179 1256,181 1252,182 1247,181 1243,179 1240,175 1239,171 1239,165 1241,160 1245,156 1250,154 1256,153 1262,155 1267,159 1271,164 1273,171 1272,178 1268,184 1262,189 1255,192 1247,192 1239,189 1233,183 1229,175 1229,167 1231,158 1236,151 1244,145 1253,143 1263,144 1272,149 1278,156 1282,166 1282,177 1278,187 1271,195 1261,200 1250,202 1239,199 1229,193 1222,183 1219,172 1220,159" stroke="#fff" stroke-opacity="0.45" stroke-width="5.5"/>
<path d="M348,475 L347,475 346,474 345,472 345,470 346,469 348,467 350,466 353,466 355,467 358,469 359,472 360,475 359,479 356,482 353,484 349,485 344,484 340,482 337,478 336,474 336,468 338,463 342,459 347,457 353,456 359,458 364,462 368,467 370,474 369,481 365,487 359,492 352,495 344,495 336,492 330,486 326,478 326,470 328,461 333,454 341,448 350,446 360,447 369,452 375,459 379,469 379,480 375,490 368,498 358,503 347,505 336,502 326,496 319,486 316,475 317,462" stroke="#000" stroke-opacity="0.045" stroke-width="7.5"/>
<path d="M348,475 L347,475 346,474 345,472 345,470 346,469 348,467 350,466 353,466 355,467 358,469 359,472 360,475 359,479 356,482 353,484 349,485 344,484 340,482 337,478 336,474 336,468 338,463 342,459 347,457 353,456 359,458 364,462 368,467 370,474 369,481 365,487 359,492 352,495 344,495 336,492 330,486 326,478 326,470 328,461 333,454 341,448 350,446 360,447 369,452 375,459 379,469 379,480 375,490 368,498 358,503 347,505 336,502 326,496 319,486 316,475 317,462" stroke="#fff" stroke-opacity="0.45" stroke-width="5.5"/>
<path d="M950,475 L949,475 948,474 947,472 947,470 948,469 950,467 952,466 955,466 957,467 960,469 961,472 962,475 961,479 958,482 955,484 951,485 946,484 942,482 939,478 938,474 938,468 940,463 944,459 949,457 955,456 961,458 966,462 970,467 972,474 971,481 967,487 961,492 954,495 946,495 938,492 932,486 928,478 928,470 930,461 935,454 943,448 952,446 962,447 971,452 977,459 981,469 981,480 977,490 970,498 960,503 949,505 938,502 928,496 921,486 918,475 919,462" stroke="#000" stroke-opacity="0.045" stroke-width="7.5"/>
<path d="M950,475 L949,475 948,474 947,472 947,470 948,469 950,467 952,466 955,466 957,467 960,469 961,472 962,475 961,479 958,482 955,484 951,485 946,484 942,482 939,478 938,474 938,468 940,463 944,459 949,457 955,456 961,458 966,462 970,467 972,474 971,481 967,487 961,492 954,495 946,495 938,492 932,486 928,478 928,470 930,461 935,454 943,448 952,446 962,447 971,452 977,459 981,469 981,480 977,490 970,498 960,503 949,505 938,502 928,496 921,486 918,475 919,462" stroke="#fff" stroke-opacity="0.45" stroke-width="5.5"/>
<path d="M1552,475 L1551,475 1550,474 1549,472 1549,470 1550,469 1552,467 1554,466 1557,466 1559,467 1562,469 1563,472 1564,475 1563,479 1560,482 1557,484 1553,485 1548,484 1544,482 1541,478 1540,474 1540,468 1542,463 1546,459 1551,457 1557,456 1563,458 1568,462 1572,467 1574,474 1573,481 1569,487 1563,492 1556,495 1548,495 1540,492 1534,486 1530,478 1530,470 1532,461 1537,454 1545,448 1554,446 1564,447 1573,452 1579,459 1583,469 1583,480 1579,490 1572,498 1562,503 1551,505 1540,502 1530,496 1523,486 1520,475 1521,462" stroke="#000" stroke-opacity="0.045" stroke-width="7.5"/>
<path d="M1552,475 L1551,475 1550,474 1549,472 1549,470 1550,469 1552,467 1554,466 1557,466 1559,467 1562,469 1563,472 1564,475 1563,479 1560,482 1557,484 1553,485 1548,484 1544,482 1541,478 1540,474 1540,468 1542,463 1546,459 1551,457 1557,456 1563,458 1568,462 1572,467 1574,474 1573,481 1569,487 1563,492 1556,495 1548,495 1540,492 1534,486 1530,478 1530,470 1532,461 1537,454 1545,448 1554,446 1564,447 1573,452 1579,459 1583,469 1583,480 1579,490 1572,498 1562,503 1551,505 1540,502 1530,496 1523,486 1520,475 1521,462" stroke="#fff" stroke-opacity="0.45" stroke-width="5.5"/>
<path d="M47,773 L46,773 45,772 44,770 44,768 45,767 47,765 49,764 52,764 54,765 57,767 58,770 59,773 58,777 55,780 52,782 48,783 43,782 39,780 36,776 35,772 35,766 37,761 41,757 46,755 52,754 58,756 63,760 67,765 69,772 68,779 64,785 58,790 51,793 43,793 35,790 29,784 25,776 25,768 27,759 32,752 40,746 49,744 59,745 68,750 74,757 78,767 78,778 74,788 67,796 57,801 46,803 35,800 25,794 18,784 15,773 16,760" stroke="#000" stroke-opacity="0.045" stroke-width="7.5"/>
<path d="M47,773 L46,773 45,772 44,770 44,768 45,767 47,765 49,764 52,764 54,765 57,767 58,770 59,773 58,777 55,780 52,782 48,783 43,782 39,780 36,776 35,772 35,766 37,761 41,757 46,755 52,754 58,756 63,760 67,765 69,772 68,779 64,785 58,790 51,793 43,793 35,790 29,784 25,776 25,768 27,759 32,752 40,746 49,744 59,745 68,750 74,757 78,767 78,778 74,788 67,796 57,801 46,803 35,800 25,794 18,784 15,773 16,760" stroke="#fff" stroke-opacity="0.45" stroke-width="5.5"/>
<path d="M649,773 L648,773 647,772 646,770 646,768 647,767 649,765 651,764 654,764 656,765 659,767 660,770 661,773 660,777 657,780 654,782 650,783 645,782 641,780 638,776 637,772 637,766 639,761 643,757 648,755 654,754 660,756 665,760 669,765 671,772 670,779 666,785 660,790 653,793 645,793 637,790 631,784 627,776 627,768 629,759 634,752 642,746 651,744 661,745 670,750 676,757 680,767 680,778 676,788 669,796 659,801 648,803 637,800 627,794 620,784 617,773 618,760" stroke="#000" stroke-opacity="0.045" stroke-width="7.5"/>
<path d="M649,773 L648,773 647,772 646,770 646,768 647,767 649,765 651,764 654,764 656,765 659,767 660,770 661,773 660,777 657,780 654,782 650,783 645,782 641,780 638,776 637,772 637,766 639,761 643,757 648,755 654,754 660,756 665,760 669,765 671,772 670,779 666,785 660,790 653,793 645,793 637,790 631,784 627,776 627,768 629,759 634,752 642,746 651,744 661,745 670,750 676,757 680,767 680,778 676,788 669,796 659,801 648,803 637,800 627,794 620,784 617,773 618,760" stroke="#fff" stroke-opacity="0.45" stroke-width="5.5"/>
<path d="M1251,773 L1250,773 1249,772 1248,770 1248,768 1249,767 1251,765 1253,764 1256,764 1258,765 1261,767 1262,770 1263,773 1262,777 1259,780 1256,782 1252,783 1247,782 1243,780 1240,776 1239,772 1239,766 1241,761 1245,757 1250,755 1256,754 1262,756 1267,760 1271,765 1273,772 1272,779 1268,785 1262,790 1255,793 1247,793 1239,790 1233,784 1229,776 1229,768 1231,759 1236,752 1244,746 1253,744 1263,745 1272,750 1278,757 1282,767 1282,778 1278,788 1271,796 1261,801 1250,803 1239,800 1229,794 1222,784 1219,773 1220,760" stroke="#000" stroke-opacity="0.045" stroke-width="7.5"/>
<path d="M1251,773 L1250,773 1249,772 1248,770 1248,768 1249,767 1251,765 1253,764 1256,764 1258,765 1261,767 1262,770 1263,773 1262,777 1259,780 1256,782 1252,783 1247,782 1243,780 1240,776 1239,772 1239,766 1241,761 1245,757 1250,755 1256,754 1262,756 1267,760 1271,765 1273,772 1272,779 1268,785 1262,790 1255,793 1247,793 1239,790 1233,784 1229,776 1229,768 1231,759 1236,752 1244,746 1253,744 1263,745 1272,750 1278,757 1282,767 1282,778 1278,788 1271,796 1261,801 1250,803 1239,800 1229,794 1222,784 1219,773 1220,760" stroke="#fff" stroke-opacity="0.45" stroke-width="5.5"/>
<path d="M348,1077 L347,1077 346,1076 345,1074 345,1072 346,1071 348,1069 350,1068 353,1068 355,1069 358,1071 359,1074 360,1077 359,1081 356,1084 353,1086 349,1087 344,1086 340,1084 337,1080 336,1076 336,1070 338,1065 342,1061 347,1059 353,1058 359,1060 364,1064 368,1069 370,1076 369,1083 365,1089 359,1094 352,1097 344,1097 336,1094 330,1088 326,1080 326,1072 328,1063 333,1056 341,1050 350,1048 360,1049 369,1054 375,1061 379,1071 379,1082 375,1092 368,1100 358,1105 347,1107 336,1104 326,1098 319,1088 316,1077 317,1064" stroke="#000" stroke-opacity="0.045" stroke-width="7.5"/>
<path d="M348,1077 L347,1077 346,1076 345,1074 345,1072 346,1071 348,1069 350,1068 353,1068 355,1069 358,1071 359,1074 360,1077 359,1081 356,1084 353,1086 349,1087 344,1086 340,1084 337,1080 336,1076 336,1070 338,1065 342,1061 347,1059 353,1058 359,1060 364,1064 368,1069 370,1076 369,1083 365,1089 359,1094 352,1097 344,1097 336,1094 330,1088 326,1080 326,1072 328,1063 333,1056 341,1050 350,1048 360,1049 369,1054 375,1061 379,1071 379,1082 375,1092 368,1100 358,1105 347,1107 336,1104 326,1098 319,1088 316,1077 317,1064" stroke="#fff" stroke-opacity="0.45" stroke-width="5.5"/>
<path d="M950,1077 L949,1077 948,1076 947,1074 947,1072 948,1071 950,1069 952,1068 955,1068 957,1069 960,1071 961,1074 962,1077 961,1081 958,1084 955,1086 951,1087 946,1086 942,1084 939,1080 938,1076 938,1070 940,1065 944,1061 949,1059 955,1058 961,1060 966,1064 970,1069 972,1076 971,1083 967,1089 961,1094 954,1097 946,1097 938,1094 932,1088 928,1080 928,1072 930,1063 935,1056 943,1050 952,1048 962,1049 971,1054 977,1061 981,1071 981,1082 977,1092 970,1100 960,1105 949,1107 938,1104 928,1098 921,1088 918,1077 919,1064" stroke="#000" stroke-opacity="0.045" stroke-width="7.5"/>
<path d="M950,1077 L949,1077 948,1076 947,1074 947,1072 948,1071 950,1069 952,1068 955,1068 957,1069 960,1071 961,1074 962,1077 961,1081 958,1084 955,1086 951,1087 946,1086 942,1084 939,1080 938,1076 938,1070 940,1065 944,1061 949,1059 955,1058 961,1060 966,1064 970,1069 972,1076 971,1083 967,1089 961,1094 954,1097 946,1097 938,1094 932,1088 928,1080 928,1072 930,1063 935,1056 943,1050 952,1048 962,1049 971,1054 977,1061 981,1071 981,1082 977,1092 970,1100 960,1105 949,1107 938,1104 928,1098 921,1088 918,1077 919,1064" stroke="#fff" stroke-opacity="0.45" stroke-width="5.5"/>
<path d="M1552,1077 L1551,1077 1550,1076 1549,1074 1549,1072 1550,1071 1552,1069 1554,1068 1557,1068 1559,1069 1562,1071 1563,1074 1564,1077 1563,1081 1560,1084 1557,1086 1553,1087 1548,1086 1544,1084 1541,1080 1540,1076 1540,1070 1542,1065 1546,1061 1551,1059 1557,1058 1563,1060 1568,1064 1572,1069 1574,1076 1573,1083 1569,1089 1563,1094 1556,1097 1548,1097 1540,1094 1534,1088 1530,1080 1530,1072 1532,1063 1537,1056 1545,1050 1554,1048 1564,1049 1573,1054 1579,1061 1583,1071 1583,1082 1579,1092 1572,1100 1562,1105 1551,1107 1540,1104 1530,1098 1523,1088 1520,1077 1521,1064" stroke="#000" stroke-opacity="0.045" stroke-width="7.5"/>
<path d="M1552,1077 L1551,1077 1550,1076 1549,1074 1549,1072 1550,1071 1552,1069 1554,1068 1557,1068 1559,1069 1562,1071 1563,1074 1564,1077 1563,1081 1560,1084 1557,1086 1553,1087 1548,1086 1544,1084 1541,1080 1540,1076 1540,1070 1542,1065 1546,1061 1551,1059 1557,1058 1563,1060 1568,1064 1572,1069 1574,1076 1573,1083 1569,1089 1563,1094 1556,1097 1548,1097 1540,1094 1534,1088 1530,1080 1530,1072 1532,1063 1537,1056 1545,1050 1554,1048 1564,1049 1573,1054 1579,1061 1583,1071 1583,1082 1579,1092 1572,1100 1562,1105 1551,1107 1540,1104 1530,1098 1523,1088 1520,1077 1521,1064" stroke="#fff" stroke-opacity="0.45" stroke-width="5.5"/>
</g>
<g font-size="30" font-weight="bold" text-anchor="middle" letter-spacing="1.5">
<g transform="translate(350,170) rotate(-44)"><text x="0" y="10" fill="#000" fill-opacity="0.05" stroke="#000" stroke-opacity="0.04" stroke-width="2">dreamstime</text><text x="0" y="10" fill="#fff" fill-opacity="0.38">dreamstime</text></g>
<g transform="translate(952,170) rotate(-44)"><text x="0" y="10" fill="#000" fill-opacity="0.05" stroke="#000" stroke-opacity="0.04" stroke-width="2">dreamstime</text><text x="0" y="10" fill="#fff" fill-opacity="0.38">dreamstime</text></g>
<g transform="translate(1554,170) rotate(-44)"><text x="0" y="10" fill="#000" fill-opacity="0.05" stroke="#000" stroke-opacity="0.04" stroke-width="2">dreamstime</text><text x="0" y="10" fill="#fff" fill-opacity="0.38">dreamstime</text></g>
<g transform="translate(49,473) rotate(-44)"><text x="0" y="10" fill="#000" fill-opacity="0.05" stroke="#000" stroke-opacity="0.04" stroke-width="2">dreamstime</text><text x="0" y="10" fill="#fff" fill-opacity="0.38">dreamstime</text></g>
<g transform="translate(651,473) rotate(-44)"><text x="0" y="10" fill="#000" fill-opacity="0.05" stroke="#000" stroke-opacity="0.04" stroke-width="2">dreamstime</text><text x="0" y="10" fill="#fff" fill-opacity="0.38">dreamstime</text></g>
<g transform="translate(1253,473) rotate(-44)"><text x="0" y="10" fill="#000" fill-opacity="0.05" stroke="#000" stroke-opacity="0.04" stroke-width="2">dreamstime</text><text x="0" y="10" fill="#fff" fill-opacity="0.38">dreamstime</text></g>
<g transform="translate(350,771) rotate(-44)"><text x="0" y="10" fill="#000" fill-opacity="0.05" stroke="#000" stroke-opacity="0.04" stroke-width="2">dreamstime</text><text x="0" y="10" fill="#fff" fill-opacity="0.38">dreamstime</text></g>
<g transform="translate(952,771) rotate(-44)"><text x="0" y="10" fill="#000" fill-opacity="0.05" stroke="#000" stroke-opacity="0.04" stroke-width="2">dreamstime</text><text x="0" y="10" fill="#fff" fill-opacity="0.38">dreamstime</text></g>
<g transform="translate(1554,771) rotate(-44)"><text x="0" y="10" fill="#000" fill-opacity="0.05" stroke="#000" stroke-opacity="0.04" stroke-width="2">dreamstime</text><text x="0" y="10" fill="#fff" fill-opacity="0.38">dreamstime</text></g>
<g transform="translate(49,1075) rotate(-44)"><text x="0" y="10" fill="#000" fill-opacity="0.05" stroke="#000" stroke-opacity="0.04" stroke-width="2">dreamstime</text><text x="0" y="10" fill="#fff" fill-opacity="0.38">dreamstime</text></g>
<g transform="translate(651,1075) rotate(-44)"><text x="0" y="10" fill="#000" fill-opacity="0.05" stroke="#000" stroke-opacity="0.04" stroke-width="2">dreamstime</text><text x="0" y="10" fill="#fff" fill-opacity="0.38">dreamstime</text></g>
<g transform="translate(1253,1075) rotate(-44)"><text x="0" y="10" fill="#000" fill-opacity="0.05" stroke="#000" stroke-opacity="0.04" stroke-width="2">dreamstime</text><text x="0" y="10" fill="#fff" fill-opacity="0.38">dreamstime</text></g>
</g>
<rect x="0" y="1200" width="1600" height="90" fill="#1277b0"/>
<text x="19.5" y="1262.5" font-size="34.5" fill="#fff" stroke="#fff" stroke-width="1" stroke-linejoin="round" textLength="264" lengthAdjust="spacingAndGlyphs">dreamstime.com</text>
<text x="1159" y="1253.5" font-size="24" font-weight="bold" fill="#fff" textLength="411" lengthAdjust="spacingAndGlyphs">ID 99044651 © Viktoriia Panchenko</text>
<g transform="translate(161,1234.5) scale(1.35) translate(-161,-1235)"><path d="M161.5,1235.5 a1.6,1.6 0 1 1 1.2,-2.6 a3.4,3.4 0 1 1 -5,2.2 a5.6,5.6 0 1 1 9.5,3.8 a7.8,7.8 0 0 1 -2.5,1.8" fill="none" stroke="#fff" stroke-width="1.4" stroke-linecap="round"/></g>
</svg>
</body></html>
